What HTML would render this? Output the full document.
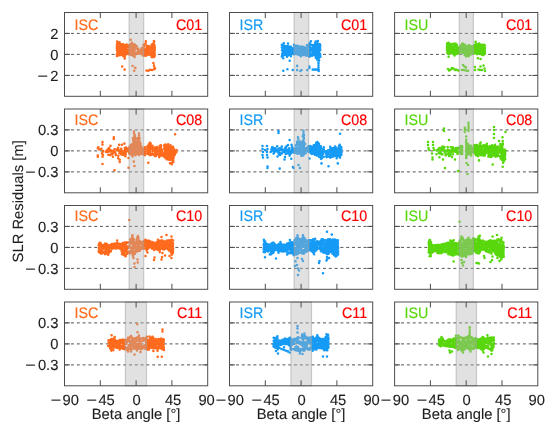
<!DOCTYPE html><html><head><meta charset="utf-8"><style>html,body{margin:0;padding:0;background:#fff;}svg{display:block}</style></head><body>
<svg width="550" height="430" viewBox="0 0 550 430" font-family="'Liberation Sans', Arial, Helvetica, sans-serif" text-rendering="geometricPrecision">
<rect width="550" height="430" fill="#fff"/>
<g>
<line x1="64.5" y1="33.40" x2="207.7" y2="33.40" stroke="#555555" stroke-width="1" stroke-dasharray="3 2.8" stroke-dashoffset="-0.7"/>
<line x1="64.5" y1="54.40" x2="207.7" y2="54.40" stroke="#555555" stroke-width="1" stroke-dasharray="3 2.8" stroke-dashoffset="-0.7"/>
<line x1="64.5" y1="75.40" x2="207.7" y2="75.40" stroke="#555555" stroke-width="1" stroke-dasharray="3 2.8" stroke-dashoffset="-0.7"/>
<path d="M117.1 41.5h0M117.0 55.9h0M117.1 44.0h0M117.1 45.3h0M116.8 46.5h0M117.1 47.6h0M116.9 48.8h0M117.0 50.5h0M116.9 53.8h0M117.7 42.2h0M117.6 55.4h0M117.8 43.6h0M117.6 46.1h0M117.6 48.8h0M117.6 50.8h0M117.7 51.8h0M117.5 53.5h0M117.8 54.7h0M118.9 43.7h0M119.0 55.2h0M118.7 47.4h0M119.2 49.9h0M119.0 51.0h0M119.0 53.5h0M119.6 44.1h0M119.6 55.3h0M120.1 46.0h0M119.7 48.3h0M119.7 49.7h0M119.7 51.9h0M119.9 55.2h0M119.6 42.3h0M121.1 45.7h0M121.2 54.7h0M120.9 46.5h0M121.0 48.3h0M120.9 50.2h0M120.9 52.3h0M120.9 53.2h0M121.7 44.3h0M121.4 54.5h0M121.4 48.2h0M121.5 49.0h0M121.3 50.2h0M121.3 52.1h0M121.5 53.5h0M123.2 44.4h0M123.2 56.0h0M123.3 45.3h0M123.1 46.4h0M123.3 47.8h0M123.1 49.7h0M123.1 50.5h0M123.2 53.0h0M123.3 54.8h0M123.5 45.5h0M123.6 55.8h0M123.7 47.3h0M123.7 49.2h0M123.5 51.9h0M123.7 53.8h0M123.4 54.8h0M124.7 45.4h0M124.8 56.3h0M125.0 46.7h0M124.8 49.3h0M124.6 50.8h0M124.7 52.0h0M124.8 54.6h0M125.6 46.0h0M125.5 54.7h0M125.8 48.4h0M125.3 49.5h0M125.7 50.9h0M125.3 52.7h0M126.5 47.4h0M126.4 54.0h0M126.3 49.2h0M126.6 50.5h0M126.5 52.5h0M126.7 44.6h0M127.9 47.0h0M127.9 53.7h0M128.2 49.7h0M128.1 52.1h0M128.8 45.4h0M129.0 54.3h0M129.1 47.2h0M129.0 49.8h0M128.8 52.2h0M128.7 54.1h0M130.2 45.1h0M129.9 54.0h0M129.8 47.4h0M130.2 49.1h0M129.8 51.1h0M129.8 52.0h0M129.8 53.1h0M130.7 39.8h0M130.6 54.7h0M130.6 44.4h0M130.5 47.0h0M130.5 49.2h0M130.7 51.6h0M130.7 54.7h0M132.0 42.9h0M131.8 54.7h0M131.8 43.8h0M131.9 45.0h0M131.7 47.7h0M132.1 50.1h0M131.7 51.5h0M131.7 53.2h0M133.0 44.4h0M132.9 55.6h0M132.8 46.1h0M132.9 46.9h0M132.8 48.2h0M132.8 52.3h0M132.9 54.6h0M133.5 45.0h0M133.6 54.8h0M133.6 47.4h0M133.6 49.0h0M133.7 50.9h0M133.5 53.4h0M134.8 44.6h0M134.8 54.2h0M134.7 46.2h0M134.6 50.3h0M134.4 52.0h0M134.7 53.2h0M134.6 57.1h0M135.7 45.6h0M135.5 54.5h0M135.9 48.1h0M135.8 53.6h0M136.6 46.1h0M136.9 53.5h0M136.9 48.8h0M136.5 52.9h0M138.0 48.6h0M137.7 53.8h0M137.9 51.3h0M137.8 53.1h0M138.3 50.6h0M138.6 53.4h0M138.6 52.7h0M139.8 50.8h0M139.7 53.5h0M139.5 52.6h0M140.7 49.5h0M140.5 53.8h0M140.6 51.2h0M140.7 52.2h0M140.8 53.5h0M141.8 48.0h0M142.2 53.8h0M141.8 49.9h0M141.9 51.2h0M142.0 53.4h0M142.5 47.7h0M142.8 55.2h0M142.7 49.7h0M142.8 51.4h0M142.8 53.1h0M143.6 47.0h0M143.7 55.6h0M143.6 50.9h0M143.4 52.3h0M143.6 53.9h0M143.4 55.1h0M143.4 44.8h0M144.3 45.7h0M144.3 55.4h0M144.6 49.5h0M144.6 51.9h0M144.6 54.2h0M145.6 43.4h0M146.0 55.8h0M145.8 48.7h0M145.7 51.3h0M145.8 53.7h0M145.6 54.6h0M145.8 55.8h0M145.9 41.2h0M147.0 45.7h0M147.0 54.8h0M146.9 46.7h0M146.9 48.2h0M147.1 49.1h0M147.0 50.7h0M146.8 52.6h0M146.9 54.7h0M148.2 46.3h0M148.2 54.5h0M147.8 48.3h0M148.1 49.9h0M147.8 51.5h0M148.2 54.2h0M148.7 46.5h0M148.7 54.6h0M149.0 47.7h0M148.7 50.3h0M148.7 51.9h0M148.7 53.1h0M149.4 46.6h0M149.5 54.3h0M149.5 48.7h0M149.5 50.0h0M149.4 53.0h0M150.7 47.0h0M150.8 55.0h0M150.7 48.1h0M150.9 50.4h0M150.7 53.1h0M151.8 44.6h0M151.7 56.9h0M151.7 45.9h0M152.1 47.7h0M151.9 49.4h0M151.6 51.7h0M151.7 53.2h0M151.8 55.7h0M152.9 43.8h0M153.0 57.3h0M152.9 45.2h0M152.8 47.8h0M153.1 51.7h0M152.8 54.3h0M153.0 56.6h0M153.9 41.0h0M153.9 56.9h0M154.2 41.8h0M154.0 44.4h0M154.1 46.2h0M153.8 47.6h0M154.3 49.5h0M154.0 53.3h0M154.1 55.9h0M154.4 45.1h0M154.7 55.9h0M154.7 47.0h0M154.8 48.0h0M154.5 48.9h0M154.8 50.1h0M154.4 52.1h0M154.7 53.8h0M154.5 54.8h0M124.7 58.4h0M122.2 66.5h0M124.7 69.6h0M132.6 66.0h0M135.3 67.9h0M134.2 70.7h0M146.5 70.5h0M148.5 70.7h0M150.0 69.7h0M152.0 70.0h0M154.2 69.3h0M154.5 67.5h0M154.0 65.5h0M153.4 63.0h0M155.0 68.5h0" fill="none" stroke="#ff6a1c" stroke-width="2.6" stroke-linecap="round"/>
<rect x="129.1" y="12.5" width="14.60" height="83.8" fill="#b3b3b3" fill-opacity="0.4" stroke="#a0a0a0" stroke-opacity="0.5" stroke-width="1.2"/>
<line x1="100.30" y1="12.5" x2="100.30" y2="18.0" stroke="#4d4d4d" stroke-width="1"/>
<line x1="100.30" y1="96.3" x2="100.30" y2="90.8" stroke="#4d4d4d" stroke-width="1"/>
<line x1="136.10" y1="12.5" x2="136.10" y2="18.0" stroke="#4d4d4d" stroke-width="1"/>
<line x1="136.10" y1="96.3" x2="136.10" y2="90.8" stroke="#4d4d4d" stroke-width="1"/>
<line x1="171.90" y1="12.5" x2="171.90" y2="18.0" stroke="#4d4d4d" stroke-width="1"/>
<line x1="171.90" y1="96.3" x2="171.90" y2="90.8" stroke="#4d4d4d" stroke-width="1"/>
<line x1="64.5" y1="33.40" x2="70.0" y2="33.40" stroke="#4d4d4d" stroke-width="1"/>
<line x1="207.7" y1="33.40" x2="202.2" y2="33.40" stroke="#4d4d4d" stroke-width="1"/>
<line x1="64.5" y1="54.40" x2="70.0" y2="54.40" stroke="#4d4d4d" stroke-width="1"/>
<line x1="207.7" y1="54.40" x2="202.2" y2="54.40" stroke="#4d4d4d" stroke-width="1"/>
<line x1="64.5" y1="75.40" x2="70.0" y2="75.40" stroke="#4d4d4d" stroke-width="1"/>
<line x1="207.7" y1="75.40" x2="202.2" y2="75.40" stroke="#4d4d4d" stroke-width="1"/>
<rect x="64.5" y="12.5" width="143.2" height="83.8" fill="none" stroke="#4d4d4d" stroke-width="1"/>
<text transform="translate(74.50 30.30) scale(1 1.06)" font-size="14.3" fill="#ff6a1c" stroke="#ff6a1c" stroke-width="0.15">ISC</text>
<text transform="translate(202.20 30.30) scale(1 1.06)" font-size="14.3" fill="#ff0000" stroke="#ff0000" stroke-width="0.15" text-anchor="end">C01</text>
</g>
<g>
<line x1="229.5" y1="33.40" x2="372.7" y2="33.40" stroke="#555555" stroke-width="1" stroke-dasharray="3 2.8" stroke-dashoffset="-0.7"/>
<line x1="229.5" y1="54.40" x2="372.7" y2="54.40" stroke="#555555" stroke-width="1" stroke-dasharray="3 2.8" stroke-dashoffset="-0.7"/>
<line x1="229.5" y1="75.40" x2="372.7" y2="75.40" stroke="#555555" stroke-width="1" stroke-dasharray="3 2.8" stroke-dashoffset="-0.7"/>
<path d="M281.9 44.9h0M281.9 56.6h0M281.9 47.5h0M282.0 50.2h0M282.2 53.8h0M282.0 55.9h0M282.6 45.4h0M282.7 56.0h0M282.7 46.8h0M282.7 48.3h0M283.1 51.6h0M282.9 53.1h0M283.0 54.3h0M284.1 46.1h0M283.9 54.6h0M284.3 47.1h0M284.3 49.2h0M283.8 51.3h0M284.3 53.1h0M283.8 43.3h0M285.0 46.1h0M284.9 54.9h0M285.4 47.3h0M285.4 48.2h0M285.3 49.3h0M285.4 50.6h0M285.1 52.8h0M286.3 46.2h0M286.2 54.6h0M285.9 47.4h0M286.2 48.3h0M286.2 50.9h0M285.9 53.7h0M287.0 46.3h0M287.0 55.0h0M287.2 47.3h0M287.2 49.1h0M287.3 50.3h0M287.4 51.8h0M286.9 52.8h0M287.1 54.8h0M287.0 56.8h0M288.3 46.4h0M288.3 55.3h0M288.2 50.6h0M288.3 53.7h0M287.9 55.3h0M288.0 43.6h0M289.1 48.6h0M289.1 54.3h0M289.2 50.2h0M289.3 52.6h0M289.4 53.6h0M290.2 46.7h0M290.1 54.7h0M290.5 49.0h0M290.1 52.4h0M290.2 53.5h0M290.9 46.9h0M290.7 54.5h0M290.8 48.5h0M290.8 50.6h0M290.9 56.2h0M292.1 48.1h0M292.5 53.7h0M292.4 49.7h0M292.2 52.4h0M292.2 53.6h0M293.0 49.3h0M293.2 53.9h0M292.9 51.6h0M292.9 53.0h0M294.4 46.8h0M294.0 54.2h0M294.4 49.0h0M294.4 50.5h0M294.4 51.8h0M294.2 53.8h0M294.1 44.8h0M294.6 45.7h0M294.6 53.2h0M294.6 46.7h0M294.8 48.6h0M294.7 50.9h0M296.2 45.7h0M296.1 54.0h0M296.2 47.2h0M296.4 49.1h0M296.2 51.7h0M296.5 52.7h0M297.4 45.9h0M297.0 54.0h0M297.3 48.3h0M297.3 53.9h0M297.9 46.1h0M298.0 54.4h0M297.8 48.3h0M297.7 50.6h0M297.6 52.8h0M298.8 46.9h0M298.9 54.8h0M298.8 47.7h0M298.8 49.2h0M298.9 50.2h0M298.7 52.0h0M299.1 54.7h0M299.6 46.8h0M299.8 54.7h0M299.7 48.5h0M299.8 49.9h0M299.7 51.0h0M299.9 52.5h0M299.7 53.7h0M301.0 46.5h0M300.8 56.2h0M300.9 48.9h0M300.9 50.4h0M301.0 52.8h0M301.0 55.5h0M301.8 47.1h0M302.0 54.9h0M302.0 49.7h0M301.8 52.3h0M302.8 46.7h0M303.0 55.0h0M302.9 47.6h0M303.1 50.0h0M303.0 51.4h0M303.1 53.2h0M303.1 54.1h0M304.1 47.4h0M304.2 54.9h0M303.7 48.2h0M303.7 50.5h0M303.9 51.7h0M303.8 54.7h0M305.1 49.1h0M304.9 53.3h0M304.9 51.7h0M306.0 47.9h0M306.1 53.1h0M306.2 50.6h0M306.1 55.5h0M306.9 45.4h0M306.9 54.1h0M306.8 47.9h0M306.5 48.8h0M306.9 51.3h0M306.7 53.7h0M307.8 45.4h0M307.9 55.6h0M307.7 49.7h0M307.8 52.0h0M307.9 52.9h0M308.0 55.1h0M309.2 44.2h0M309.2 56.6h0M309.3 45.4h0M309.2 47.3h0M309.2 49.9h0M309.4 52.6h0M309.6 43.3h0M309.8 56.5h0M309.6 45.2h0M309.8 46.5h0M309.8 49.0h0M309.6 50.4h0M309.7 52.2h0M309.8 54.3h0M309.9 55.6h0M310.8 44.6h0M311.1 55.0h0M311.2 48.4h0M310.8 50.3h0M311.1 54.9h0M310.9 41.2h0M312.3 45.1h0M312.1 55.7h0M312.3 49.0h0M312.2 51.1h0M312.4 53.1h0M312.2 54.2h0M312.8 47.1h0M313.0 54.5h0M312.7 48.7h0M312.8 50.3h0M312.9 53.0h0M312.7 54.0h0M313.9 45.3h0M314.2 53.9h0M314.1 48.1h0M314.0 51.6h0M315.4 42.5h0M315.2 55.5h0M315.2 43.4h0M315.1 44.9h0M315.0 47.0h0M315.3 48.3h0M315.1 50.4h0M315.2 51.3h0M315.1 54.0h0M314.9 55.4h0M315.7 41.6h0M315.8 57.8h0M315.6 44.6h0M315.6 46.8h0M315.8 48.4h0M315.9 50.1h0M315.6 52.7h0M315.8 54.8h0M315.7 55.7h0M317.3 43.6h0M317.2 59.6h0M317.0 45.5h0M317.2 47.9h0M317.3 50.4h0M317.3 52.5h0M317.2 53.7h0M317.4 55.5h0M317.4 57.5h0M317.1 59.5h0M318.2 44.2h0M318.2 58.2h0M317.9 45.5h0M317.8 49.8h0M317.9 50.6h0M317.9 53.1h0M318.2 54.1h0M318.1 55.9h0M317.9 41.1h0M319.1 44.1h0M318.9 58.0h0M319.2 45.5h0M319.2 46.6h0M319.2 48.5h0M319.0 52.0h0M319.1 53.3h0M319.2 57.3h0M319.1 60.2h0M319.9 44.4h0M320.3 56.8h0M320.3 45.5h0M320.1 46.9h0M320.3 49.4h0M320.2 50.2h0M320.0 53.8h0M320.2 55.2h0M320.0 56.6h0M283.3 58.3h0M289.7 60.7h0M283.3 70.8h0M287.4 69.2h0M292.8 70.0h0M297.1 65.9h0M297.1 70.1h0M300.3 71.0h0M301.5 70.0h0M307.2 70.1h0M309.4 68.0h0M309.4 66.5h0M312.7 69.6h0M314.2 69.6h0M315.7 69.6h0M317.2 69.6h0M318.7 69.8h0M318.5 63.5h0M318.5 65.5h0M318.5 67.5h0M318.7 71.0h0M318.5 62.0h0" fill="none" stroke="#159bf5" stroke-width="2.6" stroke-linecap="round"/>
<rect x="294.1" y="12.5" width="14.60" height="83.8" fill="#b3b3b3" fill-opacity="0.4" stroke="#a0a0a0" stroke-opacity="0.5" stroke-width="1.2"/>
<line x1="265.30" y1="12.5" x2="265.30" y2="18.0" stroke="#4d4d4d" stroke-width="1"/>
<line x1="265.30" y1="96.3" x2="265.30" y2="90.8" stroke="#4d4d4d" stroke-width="1"/>
<line x1="301.10" y1="12.5" x2="301.10" y2="18.0" stroke="#4d4d4d" stroke-width="1"/>
<line x1="301.10" y1="96.3" x2="301.10" y2="90.8" stroke="#4d4d4d" stroke-width="1"/>
<line x1="336.90" y1="12.5" x2="336.90" y2="18.0" stroke="#4d4d4d" stroke-width="1"/>
<line x1="336.90" y1="96.3" x2="336.90" y2="90.8" stroke="#4d4d4d" stroke-width="1"/>
<line x1="229.5" y1="33.40" x2="235.0" y2="33.40" stroke="#4d4d4d" stroke-width="1"/>
<line x1="372.7" y1="33.40" x2="367.2" y2="33.40" stroke="#4d4d4d" stroke-width="1"/>
<line x1="229.5" y1="54.40" x2="235.0" y2="54.40" stroke="#4d4d4d" stroke-width="1"/>
<line x1="372.7" y1="54.40" x2="367.2" y2="54.40" stroke="#4d4d4d" stroke-width="1"/>
<line x1="229.5" y1="75.40" x2="235.0" y2="75.40" stroke="#4d4d4d" stroke-width="1"/>
<line x1="372.7" y1="75.40" x2="367.2" y2="75.40" stroke="#4d4d4d" stroke-width="1"/>
<rect x="229.5" y="12.5" width="143.2" height="83.8" fill="none" stroke="#4d4d4d" stroke-width="1"/>
<text transform="translate(239.50 30.30) scale(1 1.06)" font-size="14.3" fill="#159bf5" stroke="#159bf5" stroke-width="0.15">ISR</text>
<text transform="translate(367.20 30.30) scale(1 1.06)" font-size="14.3" fill="#ff0000" stroke="#ff0000" stroke-width="0.15" text-anchor="end">C01</text>
</g>
<g>
<line x1="394.6" y1="33.40" x2="537.8" y2="33.40" stroke="#555555" stroke-width="1" stroke-dasharray="3 2.8" stroke-dashoffset="-0.7"/>
<line x1="394.6" y1="54.40" x2="537.8" y2="54.40" stroke="#555555" stroke-width="1" stroke-dasharray="3 2.8" stroke-dashoffset="-0.7"/>
<line x1="394.6" y1="75.40" x2="537.8" y2="75.40" stroke="#555555" stroke-width="1" stroke-dasharray="3 2.8" stroke-dashoffset="-0.7"/>
<path d="M447.3 43.2h0M447.4 52.9h0M447.1 44.5h0M447.1 46.3h0M447.0 47.9h0M447.1 49.6h0M447.1 50.5h0M447.8 44.0h0M447.8 53.1h0M448.2 45.6h0M448.2 46.9h0M448.2 48.7h0M447.9 51.2h0M448.6 42.8h0M449.0 54.0h0M448.6 44.1h0M448.6 46.6h0M448.7 48.5h0M448.7 50.6h0M448.6 52.6h0M450.1 44.1h0M450.1 52.5h0M449.7 45.8h0M450.1 46.6h0M449.9 48.8h0M450.0 49.9h0M449.9 52.1h0M451.1 45.7h0M451.2 52.8h0M451.1 47.7h0M451.1 49.8h0M451.2 50.7h0M451.8 44.6h0M451.9 52.9h0M452.0 46.7h0M451.8 48.9h0M452.2 51.0h0M452.8 43.9h0M452.6 53.4h0M452.5 48.1h0M452.8 51.3h0M454.0 44.3h0M453.9 54.2h0M453.8 46.8h0M453.9 47.9h0M454.0 49.7h0M454.2 50.6h0M453.8 51.9h0M453.8 53.2h0M454.5 43.8h0M454.6 53.9h0M454.6 45.3h0M454.8 47.8h0M454.7 50.5h0M454.6 51.9h0M455.7 43.7h0M455.6 53.2h0M456.0 44.9h0M456.0 47.0h0M455.6 50.1h0M455.6 51.3h0M456.9 44.8h0M456.6 54.0h0M457.0 47.0h0M456.9 48.0h0M456.6 50.6h0M456.8 52.6h0M457.5 47.5h0M457.5 53.2h0M457.6 48.3h0M457.8 50.7h0M459.1 47.4h0M459.1 53.6h0M459.2 49.2h0M459.3 50.9h0M459.1 52.7h0M460.2 46.0h0M460.4 52.0h0M460.4 47.6h0M460.3 48.7h0M460.4 50.3h0M460.9 45.5h0M461.2 52.0h0M460.8 47.5h0M460.7 51.7h0M462.2 43.9h0M462.2 52.9h0M462.4 44.8h0M462.3 46.2h0M462.4 47.7h0M462.1 48.9h0M462.2 50.9h0M462.3 52.5h0M462.9 43.8h0M462.9 51.8h0M462.8 45.0h0M462.9 46.9h0M463.0 49.2h0M463.0 51.0h0M464.4 45.2h0M464.2 53.0h0M464.5 47.2h0M464.4 49.2h0M464.3 51.4h0M464.9 44.7h0M464.7 55.0h0M465.2 45.9h0M464.8 48.3h0M465.0 50.9h0M464.8 52.3h0M464.7 53.6h0M466.0 46.2h0M466.0 56.2h0M465.7 47.4h0M466.1 50.0h0M466.0 52.1h0M465.9 53.7h0M466.0 55.6h0M466.8 46.7h0M466.9 54.7h0M466.6 47.6h0M466.5 50.3h0M466.7 52.1h0M466.8 54.6h0M468.3 45.6h0M468.3 56.2h0M468.1 46.6h0M468.1 48.5h0M468.0 50.7h0M467.9 52.9h0M468.2 54.0h0M469.1 45.2h0M469.3 55.4h0M469.1 46.1h0M469.1 48.8h0M469.0 50.3h0M469.4 51.7h0M469.5 52.6h0M470.1 46.4h0M470.0 53.7h0M470.1 48.3h0M470.0 49.6h0M471.1 46.2h0M470.8 54.2h0M471.1 48.8h0M470.7 51.3h0M470.7 52.5h0M472.0 48.2h0M471.8 52.3h0M471.8 50.7h0M471.8 51.5h0M472.8 47.3h0M473.0 52.8h0M473.0 49.4h0M472.7 52.0h0M474.0 45.4h0M473.6 53.5h0M473.5 46.3h0M473.8 48.6h0M473.8 49.5h0M473.8 50.5h0M473.6 51.8h0M473.9 53.2h0M475.2 44.8h0M474.8 53.1h0M475.2 45.9h0M474.8 47.7h0M475.2 49.0h0M474.9 52.3h0M475.6 45.1h0M476.0 53.2h0M475.8 46.4h0M475.8 49.1h0M475.6 50.2h0M475.7 51.5h0M475.6 41.9h0M476.6 44.0h0M477.0 54.1h0M477.0 46.1h0M476.6 48.6h0M476.6 50.3h0M476.7 51.6h0M476.9 52.9h0M478.0 44.5h0M477.7 53.6h0M477.8 47.1h0M478.0 48.0h0M478.0 49.9h0M477.9 50.8h0M478.1 51.9h0M479.1 43.5h0M478.9 53.5h0M479.4 44.8h0M478.9 46.9h0M479.2 48.6h0M479.3 51.3h0M480.1 44.4h0M480.1 54.0h0M480.3 46.6h0M480.2 47.7h0M480.4 50.0h0M480.3 51.1h0M481.4 45.6h0M481.5 54.2h0M481.2 47.7h0M481.2 50.3h0M481.1 52.3h0M482.0 45.1h0M482.2 54.8h0M482.3 46.7h0M482.3 47.9h0M482.3 49.5h0M482.2 52.0h0M482.2 54.7h0M483.4 44.7h0M483.4 55.1h0M483.0 46.9h0M483.3 49.1h0M483.2 51.4h0M483.4 53.7h0M484.1 44.9h0M484.0 52.6h0M484.2 45.8h0M484.2 48.4h0M484.2 50.2h0M484.9 45.5h0M485.0 53.3h0M484.9 48.1h0M484.6 49.4h0M484.8 50.5h0M484.7 51.7h0M448.6 56.8h0M454.5 55.4h0M477.9 58.3h0M480.6 59.0h0M448.0 69.0h0M449.0 70.5h0M450.0 70.0h0M451.5 69.0h0M452.0 68.0h0M453.5 68.5h0M455.0 70.0h0M456.0 69.5h0M457.0 70.0h0M458.5 70.5h0M463.0 65.0h0M464.5 66.5h0M466.0 67.5h0M462.0 70.0h0M464.0 70.0h0M466.0 70.5h0M468.0 70.8h0M475.0 67.0h0M475.0 70.0h0M478.5 69.5h0M480.5 66.5h0M483.5 65.5h0M484.5 68.5h0M485.0 71.0h0M482.0 70.0h0M480.0 70.0h0" fill="none" stroke="#58d80c" stroke-width="2.6" stroke-linecap="round"/>
<rect x="459.3" y="12.5" width="14.10" height="83.8" fill="#b3b3b3" fill-opacity="0.4" stroke="#a0a0a0" stroke-opacity="0.5" stroke-width="1.2"/>
<line x1="430.40" y1="12.5" x2="430.40" y2="18.0" stroke="#4d4d4d" stroke-width="1"/>
<line x1="430.40" y1="96.3" x2="430.40" y2="90.8" stroke="#4d4d4d" stroke-width="1"/>
<line x1="466.20" y1="12.5" x2="466.20" y2="18.0" stroke="#4d4d4d" stroke-width="1"/>
<line x1="466.20" y1="96.3" x2="466.20" y2="90.8" stroke="#4d4d4d" stroke-width="1"/>
<line x1="502.00" y1="12.5" x2="502.00" y2="18.0" stroke="#4d4d4d" stroke-width="1"/>
<line x1="502.00" y1="96.3" x2="502.00" y2="90.8" stroke="#4d4d4d" stroke-width="1"/>
<line x1="394.6" y1="33.40" x2="400.1" y2="33.40" stroke="#4d4d4d" stroke-width="1"/>
<line x1="537.8" y1="33.40" x2="532.3" y2="33.40" stroke="#4d4d4d" stroke-width="1"/>
<line x1="394.6" y1="54.40" x2="400.1" y2="54.40" stroke="#4d4d4d" stroke-width="1"/>
<line x1="537.8" y1="54.40" x2="532.3" y2="54.40" stroke="#4d4d4d" stroke-width="1"/>
<line x1="394.6" y1="75.40" x2="400.1" y2="75.40" stroke="#4d4d4d" stroke-width="1"/>
<line x1="537.8" y1="75.40" x2="532.3" y2="75.40" stroke="#4d4d4d" stroke-width="1"/>
<rect x="394.6" y="12.5" width="143.2" height="83.8" fill="none" stroke="#4d4d4d" stroke-width="1"/>
<text transform="translate(404.60 30.30) scale(1 1.06)" font-size="14.3" fill="#58d80c" stroke="#58d80c" stroke-width="0.15">ISU</text>
<text transform="translate(532.30 30.30) scale(1 1.06)" font-size="14.3" fill="#ff0000" stroke="#ff0000" stroke-width="0.15" text-anchor="end">C01</text>
</g>
<g>
<line x1="64.5" y1="129.90" x2="207.7" y2="129.90" stroke="#555555" stroke-width="1" stroke-dasharray="3 2.8" stroke-dashoffset="-0.7"/>
<line x1="64.5" y1="150.90" x2="207.7" y2="150.90" stroke="#555555" stroke-width="1" stroke-dasharray="3 2.8" stroke-dashoffset="-0.7"/>
<line x1="64.5" y1="171.90" x2="207.7" y2="171.90" stroke="#555555" stroke-width="1" stroke-dasharray="3 2.8" stroke-dashoffset="-0.7"/>
<path d="M105.8 151.8h0M106.4 152.0h0M106.7 151.0h0M107.3 151.4h0M106.7 150.5h0M108.3 154.8h0M108.1 151.2h0M107.9 151.6h0M109.3 151.5h0M109.2 148.1h0M110.0 151.3h0M110.2 155.1h0M109.9 150.0h0M110.5 145.8h0M111.2 150.6h0M111.8 154.3h0M111.5 153.6h0M112.2 151.0h0M113.1 151.8h0M113.3 150.9h0M112.7 153.8h0M114.1 151.1h0M114.4 149.8h0M115.1 152.8h0M114.6 149.3h0M115.0 152.2h0M115.8 154.9h0M115.5 153.5h0M116.9 150.3h0M116.8 149.5h0M118.5 150.3h0M117.6 149.8h0M118.3 155.7h0M119.4 150.4h0M119.5 153.2h0M119.3 150.4h0M120.0 151.6h0M120.2 150.1h0M121.2 148.9h0M121.4 154.4h0M121.0 151.7h0M121.6 153.1h0M121.6 150.9h0M121.6 153.9h0M122.9 152.1h0M123.1 154.4h0M122.9 151.2h0M123.8 155.0h0M123.7 151.2h0M124.8 148.1h0M125.1 148.5h0M126.1 147.6h0M125.5 151.0h0M125.6 152.2h0M127.3 149.0h0M127.3 151.0h0M126.7 149.9h0M128.2 151.3h0M127.8 149.4h0M128.4 148.8h0M129.4 151.3h0M129.3 149.6h0M129.3 153.5h0M118.8 150.6h0M120.0 150.5h0M119.9 151.9h0M121.5 150.8h0M121.5 153.5h0M122.0 144.8h0M123.2 153.5h0M123.8 152.4h0M123.7 153.4h0M125.0 149.9h0M124.5 153.4h0M125.7 154.4h0M127.4 151.1h0M128.3 148.5h0M129.0 148.9h0M129.7 146.6h0M129.9 147.7h0M129.9 149.3h0M129.6 153.8h0M129.4 149.0h0M129.3 151.3h0M129.2 152.4h0M130.7 146.4h0M131.0 148.7h0M130.8 153.1h0M131.1 146.4h0M131.0 148.2h0M130.7 150.1h0M131.0 152.0h0M131.1 153.6h0M131.0 154.6h0M131.0 144.9h0M131.0 147.0h0M131.2 148.5h0M131.4 150.4h0M131.2 153.4h0M132.6 144.2h0M132.6 145.4h0M132.5 147.1h0M132.4 149.5h0M132.4 151.8h0M132.5 153.3h0M132.3 155.2h0M132.6 156.5h0M133.3 141.1h0M133.5 142.5h0M133.4 143.8h0M133.5 145.1h0M133.5 146.5h0M133.5 151.6h0M133.3 153.4h0M133.1 138.0h0M133.2 139.5h0M133.2 144.0h0M133.1 145.9h0M133.1 147.1h0M133.1 148.5h0M133.1 150.0h0M133.1 152.2h0M134.6 134.7h0M134.9 142.4h0M135.0 143.4h0M134.7 144.8h0M134.6 147.2h0M135.0 149.2h0M134.8 152.3h0M134.8 135.8h0M135.0 137.3h0M135.0 139.8h0M135.0 142.2h0M134.9 144.5h0M134.8 146.2h0M134.7 147.8h0M134.8 148.9h0M134.8 151.2h0M134.9 153.0h0M134.8 154.6h0M135.5 138.0h0M135.8 139.4h0M135.7 141.7h0M135.6 144.1h0M135.6 145.9h0M135.7 147.6h0M135.6 149.3h0M135.6 151.1h0M135.6 152.4h0M135.6 138.3h0M135.4 139.5h0M135.3 141.9h0M135.6 144.0h0M135.5 145.5h0M135.3 147.9h0M135.6 150.2h0M135.6 151.6h0M135.3 153.2h0M135.6 155.3h0M136.4 142.9h0M136.5 145.1h0M136.4 146.5h0M136.4 148.6h0M136.7 149.7h0M136.6 152.2h0M137.8 141.9h0M137.5 144.3h0M137.7 148.5h0M137.5 152.3h0M137.5 153.8h0M138.1 137.8h0M138.1 139.3h0M138.2 141.2h0M138.1 145.2h0M138.2 146.4h0M138.2 148.2h0M138.2 149.5h0M138.0 150.5h0M139.1 138.8h0M139.1 141.3h0M139.1 144.4h0M139.1 147.0h0M139.2 148.5h0M139.2 150.6h0M139.1 154.9h0M139.4 137.9h0M139.3 140.0h0M139.4 143.1h0M139.2 144.3h0M139.2 145.5h0M139.4 147.7h0M139.4 150.7h0M139.4 152.5h0M139.3 153.8h0M140.1 142.5h0M140.4 143.8h0M140.3 144.9h0M140.2 146.4h0M140.0 148.7h0M140.2 150.3h0M140.3 151.9h0M140.3 153.7h0M141.5 146.7h0M141.5 148.4h0M141.5 149.9h0M141.8 151.6h0M141.7 154.0h0M143.6 148.5h0M143.8 149.6h0M143.5 152.1h0M143.4 153.6h0M144.0 150.2h0M144.2 152.7h0M143.9 154.8h0M143.7 151.3h0M143.7 152.8h0M145.0 147.2h0M145.0 149.0h0M144.9 150.8h0M145.0 151.9h0M145.1 153.1h0M144.9 154.7h0M145.0 148.3h0M144.9 150.7h0M144.9 155.1h0M147.4 146.8h0M147.2 149.2h0M147.5 151.4h0M147.4 153.8h0M147.8 145.7h0M147.6 147.1h0M147.9 148.3h0M147.8 150.3h0M147.8 151.5h0M147.7 152.9h0M149.4 143.4h0M149.2 144.7h0M149.1 146.9h0M149.2 149.3h0M149.2 150.7h0M149.2 151.9h0M150.0 142.8h0M150.1 143.8h0M149.9 144.9h0M150.1 146.6h0M150.2 148.1h0M149.9 150.4h0M150.1 152.5h0M150.3 153.9h0M150.0 144.6h0M149.8 150.6h0M149.7 153.2h0M149.6 155.0h0M150.6 143.6h0M150.6 145.0h0M150.7 147.6h0M150.8 148.8h0M150.8 155.0h0M152.5 145.7h0M152.2 147.1h0M152.5 148.4h0M152.5 151.2h0M152.5 153.7h0M152.8 147.3h0M152.9 149.7h0M152.9 151.3h0M153.0 154.6h0M155.1 147.5h0M155.0 148.7h0M155.2 155.5h0M155.2 150.1h0M155.1 151.7h0M155.0 153.5h0M155.0 154.6h0M155.0 155.9h0M155.8 148.4h0M155.8 150.4h0M155.9 152.1h0M155.9 153.9h0M155.8 156.1h0M157.0 147.0h0M157.0 148.7h0M156.9 151.1h0M157.1 153.3h0M156.8 154.8h0M159.4 147.6h0M159.3 150.7h0M159.4 152.5h0M159.2 154.9h0M159.2 156.1h0M159.1 150.2h0M159.1 151.3h0M159.2 153.8h0M159.3 154.8h0M159.2 157.1h0M159.8 145.7h0M159.9 149.3h0M159.9 151.4h0M159.8 153.9h0M159.8 156.1h0M160.8 145.3h0M160.9 146.8h0M160.6 148.5h0M160.7 149.9h0M160.9 152.5h0M160.7 153.9h0M160.7 150.0h0M160.7 151.8h0M160.7 153.9h0M162.1 149.9h0M162.0 151.6h0M161.9 153.4h0M161.9 155.6h0M164.0 145.6h0M164.2 148.2h0M164.2 153.0h0M164.0 154.7h0M164.0 156.6h0M165.4 144.5h0M165.2 146.4h0M165.3 148.0h0M165.3 151.0h0M165.5 152.2h0M165.4 154.5h0M165.0 148.0h0M164.9 149.6h0M164.9 151.2h0M164.8 153.1h0M164.9 154.3h0M165.1 156.2h0M165.0 157.4h0M165.8 149.2h0M165.9 153.0h0M166.0 156.0h0M166.3 145.2h0M166.0 147.7h0M165.9 149.1h0M166.2 151.4h0M166.0 153.5h0M166.1 154.7h0M166.0 155.8h0M166.0 157.4h0M166.6 146.9h0M166.6 148.1h0M166.9 150.7h0M166.7 151.7h0M166.7 153.0h0M166.6 155.0h0M166.8 156.0h0M166.6 157.8h0M166.6 159.3h0M166.7 145.7h0M166.9 147.4h0M166.7 149.7h0M167.0 154.1h0M168.3 146.8h0M168.0 148.9h0M168.4 150.5h0M168.0 152.8h0M168.3 154.6h0M168.1 155.7h0M168.2 157.5h0M168.4 159.1h0M168.2 144.3h0M168.4 146.8h0M168.3 148.4h0M168.3 149.5h0M168.4 150.8h0M168.4 153.0h0M168.4 154.2h0M168.3 156.1h0M168.5 157.6h0M168.5 159.4h0M169.8 146.6h0M169.7 147.9h0M169.9 149.1h0M169.7 150.9h0M169.7 152.5h0M169.8 153.6h0M169.9 155.9h0M169.8 157.9h0M169.8 159.9h0M170.0 151.1h0M170.0 152.9h0M169.9 156.4h0M169.9 158.1h0M169.8 159.9h0M170.0 163.2h0M170.6 145.4h0M170.8 147.1h0M170.7 148.6h0M170.5 150.8h0M170.6 157.0h0M170.9 158.9h0M172.0 147.5h0M172.0 149.3h0M171.8 151.3h0M171.9 152.9h0M172.0 154.4h0M171.7 157.8h0M171.7 159.6h0M171.7 162.7h0M171.8 163.9h0M171.9 148.1h0M171.6 149.4h0M171.7 153.1h0M171.5 155.6h0M171.9 156.6h0M171.6 158.4h0M171.8 164.2h0M173.2 148.8h0M173.3 150.9h0M173.0 153.2h0M173.3 155.5h0M173.1 156.6h0M173.1 158.5h0M173.3 160.1h0M173.3 161.9h0M173.0 146.8h0M173.3 149.1h0M173.3 150.5h0M173.2 151.5h0M173.3 153.6h0M173.3 155.5h0M173.2 157.0h0M173.2 158.6h0M173.1 160.7h0M173.8 148.9h0M173.8 150.7h0M173.6 152.1h0M173.6 155.4h0M173.7 157.3h0M175.1 151.1h0M175.0 153.3h0M174.9 154.8h0M176.5 150.1h0M176.2 152.4h0M134.0 131.5h0M134.0 133.5h0M139.0 133.5h0M139.0 135.5h0M134.5 136.0h0M139.5 138.0h0M113.8 137.3h0M113.8 138.9h0M102.5 142.0h0M102.5 144.6h0M98.3 147.3h0M97.8 148.3h0M99.3 149.4h0M101.4 148.8h0M103.0 151.0h0M102.5 152.5h0M102.0 153.5h0M103.0 155.0h0M102.5 156.7h0M97.8 155.6h0M97.8 156.7h0M102.5 164.0h0M114.5 170.3h0M108.2 148.8h0M118.2 147.8h0M119.2 144.7h0M124.4 143.6h0M125.5 156.2h0M112.9 156.7h0M118.2 158.3h0M119.7 159.8h0M119.7 161.9h0M128.6 167.7h0M133.8 161.6h0M134.5 166.0h0M128.5 158.0h0M175.1 134.3h0M148.3 162.8h0" fill="none" stroke="#ff6a1c" stroke-width="2.6" stroke-linecap="round"/>
<rect x="129.1" y="109.0" width="14.60" height="83.8" fill="#b3b3b3" fill-opacity="0.4" stroke="#a0a0a0" stroke-opacity="0.5" stroke-width="1.2"/>
<line x1="100.30" y1="109.0" x2="100.30" y2="114.5" stroke="#4d4d4d" stroke-width="1"/>
<line x1="100.30" y1="192.8" x2="100.30" y2="187.3" stroke="#4d4d4d" stroke-width="1"/>
<line x1="136.10" y1="109.0" x2="136.10" y2="114.5" stroke="#4d4d4d" stroke-width="1"/>
<line x1="136.10" y1="192.8" x2="136.10" y2="187.3" stroke="#4d4d4d" stroke-width="1"/>
<line x1="171.90" y1="109.0" x2="171.90" y2="114.5" stroke="#4d4d4d" stroke-width="1"/>
<line x1="171.90" y1="192.8" x2="171.90" y2="187.3" stroke="#4d4d4d" stroke-width="1"/>
<line x1="64.5" y1="129.90" x2="70.0" y2="129.90" stroke="#4d4d4d" stroke-width="1"/>
<line x1="207.7" y1="129.90" x2="202.2" y2="129.90" stroke="#4d4d4d" stroke-width="1"/>
<line x1="64.5" y1="150.90" x2="70.0" y2="150.90" stroke="#4d4d4d" stroke-width="1"/>
<line x1="207.7" y1="150.90" x2="202.2" y2="150.90" stroke="#4d4d4d" stroke-width="1"/>
<line x1="64.5" y1="171.90" x2="70.0" y2="171.90" stroke="#4d4d4d" stroke-width="1"/>
<line x1="207.7" y1="171.90" x2="202.2" y2="171.90" stroke="#4d4d4d" stroke-width="1"/>
<rect x="64.5" y="109.0" width="143.2" height="83.8" fill="none" stroke="#4d4d4d" stroke-width="1"/>
<text transform="translate(74.50 124.90) scale(1 1.06)" font-size="14.3" fill="#ff6a1c" stroke="#ff6a1c" stroke-width="0.15">ISC</text>
<text transform="translate(202.20 124.90) scale(1 1.06)" font-size="14.3" fill="#ff0000" stroke="#ff0000" stroke-width="0.15" text-anchor="end">C08</text>
</g>
<g>
<line x1="229.5" y1="129.90" x2="372.7" y2="129.90" stroke="#555555" stroke-width="1" stroke-dasharray="3 2.8" stroke-dashoffset="-0.7"/>
<line x1="229.5" y1="150.90" x2="372.7" y2="150.90" stroke="#555555" stroke-width="1" stroke-dasharray="3 2.8" stroke-dashoffset="-0.7"/>
<line x1="229.5" y1="171.90" x2="372.7" y2="171.90" stroke="#555555" stroke-width="1" stroke-dasharray="3 2.8" stroke-dashoffset="-0.7"/>
<path d="M270.7 152.0h0M271.4 149.3h0M271.5 151.1h0M272.1 147.4h0M272.4 150.1h0M272.4 148.8h0M273.0 150.2h0M273.5 148.9h0M273.3 147.8h0M273.6 153.6h0M274.0 152.9h0M273.6 150.5h0M275.2 150.2h0M275.1 151.0h0M276.3 149.9h0M275.5 148.4h0M276.5 151.4h0M276.8 151.2h0M277.2 146.3h0M277.5 149.8h0M278.4 151.0h0M278.4 152.4h0M278.9 154.2h0M278.9 148.5h0M279.6 152.9h0M279.8 148.3h0M279.7 154.0h0M281.1 150.2h0M281.3 148.6h0M280.5 149.8h0M281.8 146.6h0M281.8 153.4h0M282.8 149.8h0M283.3 152.0h0M283.0 150.9h0M283.7 149.9h0M284.5 150.4h0M284.3 151.5h0M284.9 148.8h0M284.7 152.1h0M286.0 147.8h0M286.0 151.1h0M286.4 150.7h0M287.4 151.0h0M287.5 152.2h0M287.4 150.1h0M288.4 152.3h0M287.8 153.2h0M288.3 152.3h0M288.8 149.6h0M288.7 149.9h0M289.7 152.7h0M289.7 154.2h0M289.8 151.6h0M290.9 150.9h0M291.5 152.1h0M292.0 150.8h0M292.3 148.3h0M293.5 151.6h0M293.4 152.4h0M285.2 148.9h0M285.6 147.3h0M285.8 153.9h0M286.5 146.4h0M287.7 150.9h0M288.5 150.5h0M289.2 148.3h0M289.6 155.6h0M290.7 153.8h0M291.8 149.3h0M291.6 144.9h0M293.0 149.9h0M294.0 148.8h0M294.1 149.7h0M294.3 151.4h0M294.4 152.5h0M294.6 148.9h0M294.7 151.1h0M294.7 152.7h0M295.8 145.3h0M296.1 147.0h0M295.8 149.4h0M295.8 151.5h0M295.9 152.6h0M297.3 141.9h0M297.3 143.8h0M297.3 148.3h0M297.4 152.4h0M297.5 153.8h0M297.1 141.9h0M297.1 143.2h0M297.2 144.9h0M297.2 148.1h0M297.1 150.1h0M297.1 152.6h0M299.2 142.1h0M299.0 144.7h0M299.3 146.5h0M299.3 149.3h0M299.1 151.3h0M299.0 153.5h0M300.2 141.5h0M300.0 143.8h0M300.1 145.4h0M299.9 147.8h0M299.9 150.0h0M299.9 151.0h0M299.8 153.3h0M301.4 142.7h0M301.4 144.6h0M301.4 147.1h0M301.2 149.5h0M301.3 151.4h0M301.1 153.8h0M301.3 155.8h0M301.1 144.9h0M301.2 147.2h0M301.2 148.6h0M301.1 150.8h0M301.4 151.9h0M301.5 153.8h0M302.0 145.6h0M301.7 147.4h0M301.7 149.1h0M301.7 151.4h0M301.9 153.4h0M302.8 136.2h0M302.9 141.2h0M303.0 142.5h0M302.8 144.8h0M303.0 146.4h0M303.0 148.9h0M303.0 140.9h0M303.0 142.0h0M303.1 144.0h0M303.0 145.4h0M303.0 147.3h0M302.9 149.5h0M303.0 150.7h0M303.1 153.0h0M303.1 154.4h0M303.1 155.5h0M303.9 135.1h0M303.6 136.9h0M303.7 139.1h0M303.8 141.7h0M303.7 143.9h0M303.9 145.2h0M303.8 147.5h0M303.6 148.9h0M303.9 150.7h0M303.6 152.5h0M303.7 154.6h0M303.9 138.3h0M303.9 142.2h0M303.8 143.5h0M303.7 146.6h0M303.5 148.4h0M303.8 149.5h0M303.7 152.7h0M303.6 154.2h0M305.1 143.9h0M305.1 148.2h0M304.7 150.5h0M304.8 152.1h0M305.6 148.3h0M305.8 149.4h0M305.6 151.0h0M305.7 153.2h0M307.7 146.9h0M307.8 148.5h0M308.0 150.0h0M307.9 151.3h0M308.8 146.4h0M308.6 148.2h0M308.6 151.9h0M310.5 146.1h0M310.4 147.5h0M310.2 149.7h0M309.8 146.5h0M309.6 148.0h0M309.8 152.1h0M310.6 148.4h0M310.8 149.9h0M310.8 151.7h0M310.9 146.9h0M311.1 148.2h0M311.0 149.8h0M311.1 151.4h0M311.2 153.2h0M312.0 149.3h0M311.8 152.7h0M311.9 154.0h0M312.6 146.9h0M312.8 148.2h0M312.9 152.5h0M312.6 153.7h0M313.2 147.5h0M313.1 148.6h0M313.1 149.9h0M313.0 151.5h0M313.2 152.9h0M313.8 145.4h0M314.1 147.2h0M314.1 148.7h0M313.8 150.7h0M314.9 145.1h0M315.1 146.8h0M314.9 148.0h0M314.9 152.2h0M315.3 148.2h0M315.1 149.6h0M315.0 152.8h0M314.9 154.8h0M316.3 142.7h0M316.2 145.1h0M316.4 147.7h0M316.4 149.3h0M316.4 150.3h0M316.4 151.6h0M316.2 144.3h0M316.5 146.1h0M316.3 147.4h0M316.3 148.6h0M316.2 150.3h0M316.5 152.7h0M317.4 142.0h0M317.2 143.4h0M317.1 144.5h0M317.4 145.6h0M317.4 147.0h0M317.2 150.7h0M317.1 153.3h0M317.2 155.3h0M316.7 144.7h0M316.6 146.0h0M316.7 151.8h0M316.7 153.3h0M316.8 155.5h0M319.0 143.9h0M318.8 147.0h0M318.8 149.2h0M319.0 150.5h0M318.8 152.4h0M318.7 154.5h0M318.9 143.9h0M319.0 145.4h0M318.8 147.1h0M318.9 150.0h0M318.7 151.1h0M319.0 154.1h0M319.0 156.7h0M320.0 148.4h0M320.0 152.6h0M319.9 153.8h0M320.8 146.4h0M320.8 147.6h0M320.9 148.8h0M320.8 152.1h0M321.1 154.3h0M321.1 155.8h0M320.8 157.4h0M321.0 158.8h0M320.8 148.6h0M320.7 151.3h0M320.9 155.3h0M320.9 156.8h0M321.8 151.4h0M322.0 153.6h0M321.9 155.6h0M321.9 158.2h0M323.3 148.9h0M323.3 149.9h0M323.3 152.2h0M323.3 153.7h0M323.8 147.4h0M323.9 149.9h0M323.9 151.6h0M323.8 156.7h0M326.1 151.4h0M326.0 152.8h0M326.3 154.3h0M326.3 156.3h0M326.7 152.0h0M326.9 153.6h0M326.9 156.1h0M326.6 157.1h0M328.1 150.3h0M328.0 152.4h0M328.0 154.3h0M328.1 156.6h0M330.2 146.7h0M330.1 149.2h0M330.4 150.7h0M330.5 152.2h0M330.4 153.9h0M330.3 157.6h0M330.3 150.1h0M330.1 152.3h0M330.2 155.8h0M331.1 149.4h0M331.2 151.8h0M331.4 150.2h0M331.4 152.4h0M331.2 153.4h0M331.2 154.5h0M331.2 156.7h0M332.0 149.0h0M332.0 152.3h0M332.1 154.3h0M331.9 148.4h0M331.8 149.7h0M331.6 153.5h0M331.9 154.8h0M331.9 156.8h0M333.0 148.5h0M332.9 151.9h0M333.1 153.5h0M333.2 154.7h0M333.2 156.1h0M333.0 148.4h0M333.0 150.2h0M333.2 154.4h0M333.2 156.4h0M334.3 147.7h0M334.3 148.9h0M334.3 150.5h0M334.3 151.9h0M333.9 148.8h0M334.1 151.0h0M334.1 153.6h0M334.8 148.0h0M334.9 149.4h0M334.6 151.1h0M334.6 153.5h0M334.7 154.7h0M334.7 155.9h0M335.1 146.6h0M335.2 149.2h0M335.1 151.1h0M335.3 153.3h0M335.8 147.9h0M335.9 150.2h0M336.0 152.1h0M335.9 153.8h0M336.0 155.0h0M335.6 147.2h0M335.8 149.7h0M335.7 152.0h0M335.7 153.0h0M336.9 149.6h0M336.8 151.2h0M336.9 153.6h0M336.9 156.1h0M336.7 158.2h0M337.0 150.2h0M337.0 152.4h0M336.9 153.6h0M337.0 155.3h0M338.0 148.5h0M338.2 149.7h0M338.0 151.5h0M338.0 153.5h0M338.1 156.1h0M338.9 146.4h0M338.7 148.7h0M338.9 149.8h0M338.7 152.4h0M339.0 154.5h0M339.7 144.9h0M339.8 147.4h0M339.7 148.7h0M339.5 150.5h0M339.8 152.7h0M339.7 155.1h0M340.1 146.4h0M339.8 150.3h0M340.0 152.0h0M340.1 153.0h0M339.9 155.4h0M340.0 157.6h0M341.3 147.4h0M341.3 149.4h0M341.4 151.5h0M341.4 152.8h0M341.2 154.5h0M341.3 150.0h0M341.5 152.3h0M341.3 154.9h0M303.5 130.8h0M303.5 132.8h0M303.3 135.0h0M298.0 137.2h0M298.3 139.2h0M278.5 131.4h0M278.5 133.0h0M262.5 146.0h0M262.5 149.0h0M263.0 152.0h0M262.5 155.0h0M263.0 157.5h0M267.0 146.0h0M267.5 149.0h0M267.0 152.0h0M267.0 155.0h0M267.5 157.5h0M265.0 150.0h0M277.5 156.5h0M280.0 155.0h0M285.0 157.0h0M284.5 159.5h0M291.3 158.7h0M289.6 140.1h0M288.0 145.0h0M292.0 147.0h0M267.5 168.0h0M267.5 166.5h0M279.7 168.6h0M293.0 167.0h0M298.5 165.0h0M300.0 168.0h0M293.5 168.0h0M340.1 133.7h0M321.5 163.4h0M328.5 166.3h0M337.8 163.4h0M309.5 158.5h0" fill="none" stroke="#159bf5" stroke-width="2.6" stroke-linecap="round"/>
<rect x="294.1" y="109.0" width="14.60" height="83.8" fill="#b3b3b3" fill-opacity="0.4" stroke="#a0a0a0" stroke-opacity="0.5" stroke-width="1.2"/>
<line x1="265.30" y1="109.0" x2="265.30" y2="114.5" stroke="#4d4d4d" stroke-width="1"/>
<line x1="265.30" y1="192.8" x2="265.30" y2="187.3" stroke="#4d4d4d" stroke-width="1"/>
<line x1="301.10" y1="109.0" x2="301.10" y2="114.5" stroke="#4d4d4d" stroke-width="1"/>
<line x1="301.10" y1="192.8" x2="301.10" y2="187.3" stroke="#4d4d4d" stroke-width="1"/>
<line x1="336.90" y1="109.0" x2="336.90" y2="114.5" stroke="#4d4d4d" stroke-width="1"/>
<line x1="336.90" y1="192.8" x2="336.90" y2="187.3" stroke="#4d4d4d" stroke-width="1"/>
<line x1="229.5" y1="129.90" x2="235.0" y2="129.90" stroke="#4d4d4d" stroke-width="1"/>
<line x1="372.7" y1="129.90" x2="367.2" y2="129.90" stroke="#4d4d4d" stroke-width="1"/>
<line x1="229.5" y1="150.90" x2="235.0" y2="150.90" stroke="#4d4d4d" stroke-width="1"/>
<line x1="372.7" y1="150.90" x2="367.2" y2="150.90" stroke="#4d4d4d" stroke-width="1"/>
<line x1="229.5" y1="171.90" x2="235.0" y2="171.90" stroke="#4d4d4d" stroke-width="1"/>
<line x1="372.7" y1="171.90" x2="367.2" y2="171.90" stroke="#4d4d4d" stroke-width="1"/>
<rect x="229.5" y="109.0" width="143.2" height="83.8" fill="none" stroke="#4d4d4d" stroke-width="1"/>
<text transform="translate(239.50 124.90) scale(1 1.06)" font-size="14.3" fill="#159bf5" stroke="#159bf5" stroke-width="0.15">ISR</text>
<text transform="translate(367.20 124.90) scale(1 1.06)" font-size="14.3" fill="#ff0000" stroke="#ff0000" stroke-width="0.15" text-anchor="end">C08</text>
</g>
<g>
<line x1="394.6" y1="129.90" x2="537.8" y2="129.90" stroke="#555555" stroke-width="1" stroke-dasharray="3 2.8" stroke-dashoffset="-0.7"/>
<line x1="394.6" y1="150.90" x2="537.8" y2="150.90" stroke="#555555" stroke-width="1" stroke-dasharray="3 2.8" stroke-dashoffset="-0.7"/>
<line x1="394.6" y1="171.90" x2="537.8" y2="171.90" stroke="#555555" stroke-width="1" stroke-dasharray="3 2.8" stroke-dashoffset="-0.7"/>
<path d="M436.7 150.2h0M436.5 154.3h0M437.6 150.3h0M438.3 149.3h0M438.9 152.9h0M439.4 157.3h0M439.2 148.0h0M440.3 150.6h0M439.7 153.4h0M440.7 148.1h0M441.4 147.8h0M440.9 152.2h0M442.5 146.6h0M442.3 149.6h0M441.6 154.3h0M442.6 154.2h0M443.3 148.5h0M444.1 149.8h0M444.4 151.4h0M444.5 147.0h0M445.3 152.7h0M445.2 152.0h0M445.6 152.5h0M445.6 155.3h0M446.0 155.2h0M446.7 150.7h0M446.7 150.5h0M448.0 149.7h0M447.7 147.1h0M447.8 153.8h0M448.7 152.2h0M449.0 152.8h0M449.4 154.1h0M450.3 155.5h0M450.5 153.3h0M449.6 150.6h0M450.7 147.3h0M451.2 152.0h0M451.3 150.3h0M452.1 151.5h0M452.3 149.9h0M451.6 151.7h0M452.5 147.4h0M452.9 154.2h0M452.9 147.5h0M453.9 151.6h0M453.8 148.5h0M453.5 150.0h0M455.2 149.3h0M455.2 150.7h0M455.5 150.6h0M455.9 148.2h0M456.1 152.0h0M456.0 148.3h0M457.5 154.0h0M457.2 151.8h0M457.4 149.6h0M457.6 151.2h0M457.9 147.7h0M458.6 152.6h0M459.0 147.9h0M466.2 136.5h0M466.2 157.9h0M466.3 139.9h0M466.1 142.1h0M466.2 144.0h0M466.4 146.1h0M466.3 148.0h0M466.2 150.0h0M466.1 151.7h0M466.1 154.5h0M466.3 155.5h0M466.4 156.9h0M502.5 137.3h0M502.8 144.5h0M502.7 141.1h0M502.9 143.5h0M460.4 149.3h0M460.4 151.3h0M460.7 146.1h0M460.6 148.0h0M460.6 150.4h0M460.6 152.6h0M460.9 148.1h0M461.0 151.9h0M461.0 153.7h0M462.0 146.1h0M462.3 147.5h0M462.1 148.9h0M462.2 150.8h0M462.1 152.1h0M462.2 154.0h0M467.7 143.9h0M467.7 148.0h0M468.0 150.4h0M467.8 152.3h0M467.7 153.9h0M468.6 145.2h0M468.6 146.3h0M468.4 148.2h0M468.7 149.6h0M468.6 151.2h0M468.6 152.4h0M468.4 154.2h0M470.3 146.5h0M470.5 147.6h0M470.4 149.6h0M470.3 152.1h0M470.5 154.3h0M471.3 151.9h0M471.4 153.2h0M471.2 155.5h0M470.9 145.7h0M470.9 147.8h0M470.7 149.0h0M470.7 151.3h0M470.8 153.2h0M473.0 147.8h0M473.2 149.6h0M473.3 152.0h0M473.6 147.7h0M473.9 149.3h0M473.8 145.6h0M473.9 147.8h0M473.6 149.0h0M473.6 151.6h0M475.3 145.0h0M475.1 147.5h0M475.3 149.4h0M475.2 153.7h0M475.9 146.7h0M475.7 148.7h0M475.7 149.7h0M475.9 151.0h0M475.6 152.6h0M475.9 153.7h0M476.0 148.8h0M475.9 150.1h0M475.8 153.6h0M476.1 155.3h0M476.9 145.0h0M476.7 146.7h0M476.6 147.9h0M476.6 150.0h0M476.6 152.0h0M476.7 153.7h0M476.7 155.4h0M477.3 146.9h0M477.4 149.3h0M477.4 153.1h0M478.3 146.4h0M478.1 147.7h0M478.2 149.8h0M478.3 152.0h0M478.2 153.3h0M478.0 154.8h0M478.3 156.1h0M479.1 146.0h0M479.1 147.2h0M478.9 149.6h0M478.8 150.9h0M479.0 153.5h0M478.8 154.6h0M479.9 143.9h0M479.9 145.5h0M479.9 146.5h0M479.7 150.2h0M479.8 152.2h0M480.6 142.6h0M480.7 145.8h0M480.8 147.5h0M480.5 149.9h0M480.7 151.3h0M480.7 153.7h0M480.8 146.5h0M481.1 148.0h0M480.7 149.5h0M481.1 152.7h0M481.0 155.2h0M482.1 145.9h0M482.2 147.5h0M482.3 149.8h0M482.4 151.8h0M482.4 153.4h0M483.0 145.9h0M483.0 149.8h0M483.1 150.8h0M483.0 152.3h0M483.0 153.5h0M483.2 155.4h0M484.1 145.4h0M484.3 146.6h0M484.2 151.1h0M484.0 152.1h0M484.2 153.7h0M484.7 145.7h0M484.6 148.1h0M484.8 149.6h0M484.7 151.5h0M484.6 152.9h0M484.8 155.5h0M485.9 145.4h0M485.9 147.0h0M486.1 151.6h0M486.1 153.2h0M486.9 143.7h0M486.8 146.0h0M486.7 148.4h0M486.7 150.4h0M488.0 146.9h0M488.3 148.5h0M488.3 153.0h0M488.4 156.6h0M489.0 148.6h0M488.9 150.4h0M488.7 151.9h0M489.0 153.6h0M488.7 154.7h0M488.8 150.2h0M488.5 151.7h0M488.8 153.1h0M488.8 155.1h0M490.0 146.1h0M490.3 147.5h0M490.4 148.8h0M490.1 151.4h0M490.1 153.1h0M490.3 154.8h0M490.1 156.6h0M491.2 148.7h0M491.1 150.2h0M490.9 155.4h0M491.1 156.9h0M492.3 145.4h0M492.3 146.5h0M492.4 149.0h0M492.3 151.1h0M492.6 153.7h0M492.5 155.1h0M491.7 148.9h0M491.9 150.1h0M492.0 151.7h0M491.9 154.2h0M491.8 156.3h0M493.4 147.4h0M493.2 148.6h0M493.2 151.1h0M493.1 153.5h0M494.1 148.3h0M494.2 150.1h0M494.3 151.1h0M494.0 153.2h0M494.1 154.4h0M494.2 146.7h0M494.2 151.3h0M493.9 155.3h0M495.0 144.9h0M494.8 146.5h0M494.9 148.9h0M494.8 151.1h0M494.8 153.6h0M495.0 154.7h0M494.7 155.8h0M495.3 146.4h0M495.5 151.9h0M495.6 154.1h0M495.3 156.6h0M496.0 148.6h0M495.7 150.8h0M495.8 152.4h0M497.2 146.7h0M497.0 148.2h0M497.2 150.1h0M497.0 152.5h0M497.1 154.9h0M497.1 156.2h0M498.1 146.5h0M498.2 148.9h0M498.2 150.9h0M498.0 152.5h0M498.1 153.9h0M498.1 155.7h0M500.3 144.0h0M500.4 146.6h0M500.4 148.1h0M500.1 150.1h0M500.4 152.5h0M500.1 156.4h0M500.6 146.0h0M500.7 151.0h0M500.6 152.3h0M500.7 156.3h0M500.7 158.6h0M500.9 144.6h0M501.1 146.3h0M501.2 147.8h0M501.0 149.5h0M501.1 150.6h0M501.0 152.1h0M501.1 153.3h0M501.0 157.0h0M502.4 145.5h0M502.2 146.5h0M502.4 148.6h0M502.5 150.4h0M502.2 152.0h0M502.3 154.4h0M502.2 155.9h0M501.9 146.4h0M501.8 147.5h0M501.7 148.6h0M501.7 150.5h0M501.9 152.8h0M501.7 154.8h0M502.0 156.4h0M501.8 157.6h0M502.0 158.7h0M502.0 159.9h0M503.4 149.6h0M503.3 151.5h0M503.4 154.1h0M503.4 155.6h0M503.4 157.5h0M503.4 159.6h0M503.5 161.1h0M503.2 162.8h0M504.3 149.8h0M504.0 151.6h0M503.9 153.1h0M504.1 155.1h0M504.2 156.7h0M504.0 157.9h0M504.2 160.8h0M505.1 149.9h0M505.0 152.2h0M504.9 154.2h0M504.9 155.2h0M504.9 156.6h0M505.2 151.2h0M505.2 153.2h0M505.2 154.4h0M505.2 158.9h0M464.8 127.8h0M464.8 130.0h0M464.8 132.0h0M444.0 128.5h0M444.0 131.0h0M428.0 142.0h0M428.0 145.0h0M428.5 148.0h0M429.0 150.0h0M433.0 142.0h0M433.0 145.0h0M433.5 148.0h0M434.0 150.0h0M432.0 153.5h0M432.5 157.5h0M432.5 159.5h0M449.0 140.0h0M443.0 159.5h0M445.0 168.0h0M449.0 156.0h0M452.0 157.0h0M455.0 159.5h0M458.0 171.0h0M465.0 129.0h0M466.5 163.0h0M468.0 165.0h0M467.5 174.0h0M459.0 171.0h0M505.5 132.0h0M479.0 160.4h0M492.7 164.5h0M502.7 166.7h0M499.0 141.0h0M468.5 122.7h0M468.5 124.8h0M468.5 126.9h0M468.5 129.0h0M468.5 131.0h0M494.0 127.0h0M494.0 130.0h0M494.0 134.0h0M494.0 138.0h0" fill="none" stroke="#58d80c" stroke-width="2.6" stroke-linecap="round"/>
<rect x="459.3" y="109.0" width="14.10" height="83.8" fill="#b3b3b3" fill-opacity="0.4" stroke="#a0a0a0" stroke-opacity="0.5" stroke-width="1.2"/>
<line x1="430.40" y1="109.0" x2="430.40" y2="114.5" stroke="#4d4d4d" stroke-width="1"/>
<line x1="430.40" y1="192.8" x2="430.40" y2="187.3" stroke="#4d4d4d" stroke-width="1"/>
<line x1="466.20" y1="109.0" x2="466.20" y2="114.5" stroke="#4d4d4d" stroke-width="1"/>
<line x1="466.20" y1="192.8" x2="466.20" y2="187.3" stroke="#4d4d4d" stroke-width="1"/>
<line x1="502.00" y1="109.0" x2="502.00" y2="114.5" stroke="#4d4d4d" stroke-width="1"/>
<line x1="502.00" y1="192.8" x2="502.00" y2="187.3" stroke="#4d4d4d" stroke-width="1"/>
<line x1="394.6" y1="129.90" x2="400.1" y2="129.90" stroke="#4d4d4d" stroke-width="1"/>
<line x1="537.8" y1="129.90" x2="532.3" y2="129.90" stroke="#4d4d4d" stroke-width="1"/>
<line x1="394.6" y1="150.90" x2="400.1" y2="150.90" stroke="#4d4d4d" stroke-width="1"/>
<line x1="537.8" y1="150.90" x2="532.3" y2="150.90" stroke="#4d4d4d" stroke-width="1"/>
<line x1="394.6" y1="171.90" x2="400.1" y2="171.90" stroke="#4d4d4d" stroke-width="1"/>
<line x1="537.8" y1="171.90" x2="532.3" y2="171.90" stroke="#4d4d4d" stroke-width="1"/>
<rect x="394.6" y="109.0" width="143.2" height="83.8" fill="none" stroke="#4d4d4d" stroke-width="1"/>
<text transform="translate(404.60 124.90) scale(1 1.06)" font-size="14.3" fill="#58d80c" stroke="#58d80c" stroke-width="0.15">ISU</text>
<text transform="translate(532.30 124.90) scale(1 1.06)" font-size="14.3" fill="#ff0000" stroke="#ff0000" stroke-width="0.15" text-anchor="end">C08</text>
</g>
<g>
<line x1="64.5" y1="226.40" x2="207.7" y2="226.40" stroke="#555555" stroke-width="1" stroke-dasharray="3 2.8" stroke-dashoffset="-0.7"/>
<line x1="64.5" y1="247.40" x2="207.7" y2="247.40" stroke="#555555" stroke-width="1" stroke-dasharray="3 2.8" stroke-dashoffset="-0.7"/>
<line x1="64.5" y1="268.40" x2="207.7" y2="268.40" stroke="#555555" stroke-width="1" stroke-dasharray="3 2.8" stroke-dashoffset="-0.7"/>
<path d="M99.1 243.7h0M99.1 252.0h0M98.7 245.2h0M98.9 247.9h0M98.9 250.2h0M98.7 251.7h0M99.8 242.9h0M99.7 252.8h0M100.0 244.6h0M99.8 246.7h0M99.8 249.2h0M100.0 251.4h0M100.9 243.6h0M101.0 253.5h0M100.6 244.8h0M100.7 246.8h0M100.6 249.6h0M100.8 251.0h0M100.8 252.8h0M101.6 244.7h0M102.0 253.5h0M101.5 246.3h0M101.8 248.4h0M101.9 252.0h0M102.6 245.3h0M102.5 253.0h0M102.9 247.5h0M102.5 249.8h0M102.9 252.1h0M104.0 245.0h0M104.1 252.8h0M104.1 246.4h0M103.7 248.4h0M104.0 252.6h0M104.9 243.9h0M105.1 254.1h0M105.0 246.5h0M105.1 248.2h0M104.9 251.6h0M105.2 253.1h0M105.6 243.8h0M105.9 253.6h0M105.6 246.3h0M105.6 247.2h0M105.8 250.0h0M105.7 252.4h0M106.8 244.0h0M106.7 253.4h0M106.9 245.5h0M106.6 247.6h0M106.6 249.9h0M106.4 250.9h0M108.2 245.4h0M108.2 254.8h0M108.3 247.7h0M108.3 249.0h0M108.3 250.9h0M107.9 254.6h0M109.0 246.0h0M108.9 252.8h0M108.8 247.9h0M109.0 249.4h0M109.0 251.0h0M109.9 245.3h0M109.8 251.3h0M109.9 248.1h0M111.1 244.6h0M110.7 251.4h0M110.7 246.9h0M110.9 251.1h0M111.9 244.0h0M111.8 249.1h0M111.5 246.1h0M111.8 248.9h0M112.8 244.6h0M112.8 247.8h0M112.4 247.3h0M114.1 243.8h0M114.1 248.1h0M114.0 246.3h0M113.9 248.0h0M114.7 243.7h0M115.1 247.1h0M115.2 246.0h0M114.8 247.0h0M115.5 243.9h0M115.6 248.4h0M115.4 244.9h0M115.5 246.1h0M115.8 246.9h0M117.0 243.1h0M116.9 248.2h0M116.8 245.0h0M116.7 247.2h0M117.2 240.6h0M117.7 243.5h0M117.7 247.6h0M119.1 243.9h0M119.0 247.3h0M119.3 245.5h0M118.8 246.5h0M119.7 244.2h0M119.4 248.5h0M119.8 245.0h0M120.3 244.1h0M120.5 248.8h0M120.4 246.1h0M120.7 247.7h0M121.6 244.0h0M121.7 251.4h0M121.7 245.3h0M121.6 247.0h0M121.8 248.2h0M121.6 249.5h0M121.6 251.1h0M122.0 254.1h0M122.7 243.0h0M122.9 254.5h0M123.0 245.3h0M122.7 246.5h0M122.8 248.0h0M122.9 249.3h0M122.8 251.8h0M123.6 243.1h0M123.9 255.1h0M123.6 244.4h0M123.5 246.0h0M123.6 247.1h0M123.9 250.1h0M123.9 254.1h0M124.6 242.5h0M124.7 255.2h0M124.6 243.9h0M124.7 245.5h0M124.6 247.5h0M124.6 249.8h0M124.6 251.7h0M124.6 254.4h0M125.8 242.6h0M125.7 256.2h0M125.8 244.7h0M126.1 247.0h0M125.9 248.1h0M125.8 250.8h0M125.7 255.4h0M126.7 242.2h0M127.0 253.7h0M126.8 246.3h0M126.8 248.5h0M126.9 249.4h0M126.5 251.2h0M126.9 253.5h0M127.5 242.7h0M127.7 252.3h0M127.6 246.7h0M127.8 248.1h0M127.7 252.2h0M129.6 252.9h0M129.9 251.5h0M129.5 252.2h0M129.4 251.5h0M129.5 245.8h0M129.7 253.4h0M129.3 242.2h0M129.8 253.5h0M129.3 252.3h0M130.5 239.6h0M130.2 253.0h0M130.1 239.5h0M130.4 241.9h0M130.6 241.5h0M130.4 251.4h0M130.6 240.4h0M130.7 242.2h0M130.1 251.5h0M130.2 247.5h0M130.8 247.9h0M130.5 243.6h0M131.8 243.4h0M131.6 248.4h0M131.5 252.9h0M131.4 252.8h0M131.8 253.0h0M131.4 241.2h0M131.7 252.2h0M131.9 243.6h0M131.8 249.3h0M131.6 247.8h0M131.1 252.6h0M132.8 255.6h0M132.1 241.4h0M132.6 248.3h0M132.3 242.3h0M132.4 239.2h0M132.8 238.2h0M132.5 247.3h0M132.6 250.4h0M132.2 237.8h0M132.3 236.4h0M132.6 251.8h0M132.8 246.3h0M132.8 240.6h0M133.9 239.4h0M133.5 254.3h0M133.9 254.1h0M133.5 248.7h0M133.7 245.6h0M133.8 244.3h0M133.6 254.5h0M133.8 244.4h0M133.8 245.2h0M133.8 248.0h0M133.3 246.1h0M133.7 243.3h0M133.3 250.7h0M134.1 241.8h0M134.9 253.7h0M134.4 243.7h0M134.6 246.4h0M134.5 242.2h0M134.8 245.4h0M134.6 253.0h0M134.4 253.1h0M134.8 245.4h0M134.7 244.6h0M134.8 246.3h0M135.8 252.1h0M135.8 248.1h0M135.3 243.3h0M135.6 246.7h0M135.4 251.8h0M135.2 243.2h0M135.7 242.6h0M135.7 248.6h0M135.7 251.0h0M136.7 240.2h0M136.2 251.2h0M136.9 251.1h0M136.7 249.7h0M136.1 247.4h0M136.2 250.4h0M136.8 241.0h0M136.6 243.5h0M136.8 239.3h0M136.9 241.2h0M136.2 247.6h0M137.4 237.2h0M137.2 251.2h0M137.5 245.6h0M137.6 251.0h0M137.1 241.4h0M137.3 241.1h0M137.6 249.2h0M137.5 244.7h0M137.6 243.2h0M137.3 244.2h0M137.7 246.1h0M137.3 241.0h0M138.5 238.1h0M138.2 250.6h0M138.2 242.2h0M138.2 237.8h0M138.4 250.9h0M138.2 249.6h0M138.9 243.5h0M138.6 248.4h0M138.2 245.5h0M138.4 246.1h0M138.8 245.1h0M139.5 243.9h0M139.8 241.0h0M139.8 250.3h0M139.3 249.8h0M139.8 243.5h0M139.8 250.7h0M139.3 240.8h0M139.8 248.2h0M140.6 242.1h0M140.5 249.0h0M140.7 242.3h0M140.4 248.2h0M140.6 243.8h0M140.3 242.9h0M140.5 243.1h0M140.3 246.8h0M141.7 242.3h0M141.7 248.3h0M141.3 243.5h0M141.9 247.4h0M141.9 243.5h0M141.5 248.6h0M141.7 244.0h0M141.7 248.5h0M142.5 247.7h0M142.2 243.0h0M142.7 242.5h0M142.4 245.9h0M142.5 248.0h0M142.5 242.0h0M143.6 241.1h0M144.0 246.0h0M143.7 243.4h0M143.9 245.5h0M143.7 248.8h0M145.4 239.9h0M145.2 246.6h0M145.4 241.8h0M145.2 244.2h0M145.4 246.5h0M145.8 240.5h0M146.0 248.5h0M145.9 243.9h0M145.9 245.0h0M145.7 246.3h0M146.1 247.7h0M146.8 240.9h0M146.7 250.5h0M146.9 241.8h0M147.0 243.3h0M146.8 245.9h0M147.0 247.3h0M146.9 249.0h0M147.9 241.0h0M148.2 248.5h0M148.2 242.6h0M148.2 243.6h0M147.8 244.7h0M148.1 246.6h0M149.0 240.9h0M149.1 247.4h0M149.4 242.3h0M149.1 244.9h0M149.2 247.1h0M150.0 241.2h0M150.0 246.7h0M149.9 243.3h0M149.9 245.0h0M151.2 242.5h0M150.9 246.9h0M151.1 243.5h0M151.0 245.9h0M152.0 242.1h0M152.0 248.6h0M151.8 246.9h0M151.9 248.3h0M152.9 242.5h0M152.6 247.8h0M152.8 244.6h0M152.9 247.4h0M154.2 242.7h0M154.0 249.0h0M154.1 244.8h0M154.1 246.1h0M154.1 248.2h0M154.2 249.9h0M154.8 243.4h0M154.6 248.4h0M154.9 245.2h0M154.8 247.4h0M156.0 244.4h0M155.7 248.4h0M155.6 246.5h0M156.9 242.1h0M157.1 249.6h0M156.9 243.3h0M156.8 244.6h0M156.8 246.0h0M157.1 248.3h0M157.9 239.9h0M158.3 249.3h0M158.3 241.5h0M158.1 244.1h0M158.0 245.8h0M157.8 247.7h0M158.3 249.3h0M158.9 240.6h0M158.9 250.0h0M158.6 242.7h0M158.9 246.2h0M158.9 248.9h0M159.7 240.8h0M159.9 249.7h0M159.9 243.3h0M159.8 244.9h0M159.8 246.7h0M160.1 247.9h0M159.8 248.9h0M159.8 252.1h0M161.1 240.9h0M160.8 247.2h0M160.9 243.4h0M160.7 245.0h0M160.8 246.4h0M161.7 240.3h0M161.8 248.5h0M161.6 242.8h0M162.0 243.7h0M162.8 242.2h0M163.1 249.2h0M163.1 243.2h0M162.9 245.4h0M163.0 247.0h0M163.5 241.3h0M163.9 249.5h0M163.5 242.9h0M163.7 244.5h0M163.7 246.5h0M163.5 247.9h0M163.8 249.3h0M165.0 241.7h0M165.0 248.3h0M164.8 243.9h0M164.9 245.6h0M165.0 247.7h0M166.2 241.3h0M166.0 248.4h0M166.2 242.4h0M166.3 243.8h0M166.1 244.9h0M166.4 246.8h0M167.2 240.6h0M167.1 247.7h0M166.9 242.2h0M166.9 244.2h0M167.0 245.7h0M166.9 247.6h0M168.0 241.0h0M168.1 249.3h0M167.9 243.6h0M168.1 245.9h0M169.2 240.3h0M169.2 250.5h0M169.2 244.0h0M169.0 245.3h0M169.2 247.0h0M170.0 240.5h0M169.9 251.1h0M169.9 242.8h0M170.0 245.1h0M169.6 247.3h0M169.7 249.9h0M171.4 239.7h0M171.4 252.2h0M171.0 241.5h0M171.1 242.6h0M171.3 245.4h0M171.4 246.2h0M171.3 247.4h0M171.3 249.7h0M171.1 252.1h0M171.8 239.7h0M171.8 254.8h0M171.6 243.5h0M171.9 244.8h0M171.6 246.0h0M171.7 247.3h0M172.0 248.6h0M171.6 250.6h0M171.5 253.9h0M173.1 240.5h0M172.8 253.1h0M173.0 243.2h0M172.8 244.7h0M173.0 246.0h0M173.0 248.4h0M173.0 249.8h0M173.0 251.1h0M172.8 252.3h0M132.5 235.4h0M132.5 237.4h0M138.0 236.0h0M138.0 238.0h0M137.5 240.0h0M129.3 220.0h0M133.5 258.0h0M137.5 259.5h0M137.7 262.5h0M134.5 263.5h0M134.5 267.0h0M133.0 256.0h0M166.5 235.0h0M171.5 236.5h0M161.5 237.0h0M145.5 256.0h0M154.0 260.0h0M154.5 257.5h0M162.0 257.0h0M161.5 259.5h0M165.0 255.5h0M169.5 256.0h0M171.5 258.0h0M162.5 253.0h0M147.5 252.5h0" fill="none" stroke="#ff6a1c" stroke-width="2.6" stroke-linecap="round"/>
<rect x="129.1" y="205.5" width="14.60" height="83.8" fill="#b3b3b3" fill-opacity="0.4" stroke="#a0a0a0" stroke-opacity="0.5" stroke-width="1.2"/>
<line x1="100.30" y1="205.5" x2="100.30" y2="211.0" stroke="#4d4d4d" stroke-width="1"/>
<line x1="100.30" y1="289.3" x2="100.30" y2="283.8" stroke="#4d4d4d" stroke-width="1"/>
<line x1="136.10" y1="205.5" x2="136.10" y2="211.0" stroke="#4d4d4d" stroke-width="1"/>
<line x1="136.10" y1="289.3" x2="136.10" y2="283.8" stroke="#4d4d4d" stroke-width="1"/>
<line x1="171.90" y1="205.5" x2="171.90" y2="211.0" stroke="#4d4d4d" stroke-width="1"/>
<line x1="171.90" y1="289.3" x2="171.90" y2="283.8" stroke="#4d4d4d" stroke-width="1"/>
<line x1="64.5" y1="226.40" x2="70.0" y2="226.40" stroke="#4d4d4d" stroke-width="1"/>
<line x1="207.7" y1="226.40" x2="202.2" y2="226.40" stroke="#4d4d4d" stroke-width="1"/>
<line x1="64.5" y1="247.40" x2="70.0" y2="247.40" stroke="#4d4d4d" stroke-width="1"/>
<line x1="207.7" y1="247.40" x2="202.2" y2="247.40" stroke="#4d4d4d" stroke-width="1"/>
<line x1="64.5" y1="268.40" x2="70.0" y2="268.40" stroke="#4d4d4d" stroke-width="1"/>
<line x1="207.7" y1="268.40" x2="202.2" y2="268.40" stroke="#4d4d4d" stroke-width="1"/>
<rect x="64.5" y="205.5" width="143.2" height="83.8" fill="none" stroke="#4d4d4d" stroke-width="1"/>
<text transform="translate(74.50 221.40) scale(1 1.06)" font-size="14.3" fill="#ff6a1c" stroke="#ff6a1c" stroke-width="0.15">ISC</text>
<text transform="translate(202.20 221.40) scale(1 1.06)" font-size="14.3" fill="#ff0000" stroke="#ff0000" stroke-width="0.15" text-anchor="end">C10</text>
</g>
<g>
<line x1="229.5" y1="226.40" x2="372.7" y2="226.40" stroke="#555555" stroke-width="1" stroke-dasharray="3 2.8" stroke-dashoffset="-0.7"/>
<line x1="229.5" y1="247.40" x2="372.7" y2="247.40" stroke="#555555" stroke-width="1" stroke-dasharray="3 2.8" stroke-dashoffset="-0.7"/>
<line x1="229.5" y1="268.40" x2="372.7" y2="268.40" stroke="#555555" stroke-width="1" stroke-dasharray="3 2.8" stroke-dashoffset="-0.7"/>
<path d="M264.0 241.0h0M263.8 251.9h0M263.9 243.7h0M263.8 245.1h0M264.1 246.9h0M263.7 249.0h0M263.7 251.6h0M263.9 239.7h0M265.1 241.2h0M264.8 252.3h0M264.8 242.4h0M265.0 243.5h0M264.9 245.0h0M265.1 246.1h0M265.1 247.9h0M265.1 250.3h0M266.2 243.5h0M266.0 250.8h0M266.1 247.8h0M266.1 249.5h0M266.1 250.7h0M267.0 244.3h0M267.0 250.9h0M266.6 246.2h0M266.7 247.6h0M267.6 244.2h0M267.8 251.5h0M267.7 247.0h0M267.5 249.2h0M267.7 250.9h0M268.8 245.6h0M268.5 250.5h0M268.4 248.1h0M268.6 249.4h0M269.7 244.6h0M269.6 250.6h0M269.7 246.4h0M269.7 247.6h0M269.7 250.2h0M269.9 254.4h0M271.1 244.7h0M271.1 252.1h0M270.9 246.0h0M271.3 247.8h0M271.3 248.7h0M271.1 251.1h0M271.2 254.2h0M271.7 243.4h0M271.6 253.6h0M271.7 245.5h0M271.4 247.6h0M271.7 250.3h0M271.5 252.6h0M272.7 242.9h0M272.8 252.9h0M272.9 245.1h0M272.6 247.1h0M272.8 248.3h0M272.7 249.3h0M273.0 251.3h0M273.7 242.9h0M273.6 252.3h0M273.8 246.6h0M273.7 248.9h0M273.6 250.1h0M273.6 251.7h0M275.1 244.6h0M274.9 249.7h0M274.8 249.3h0M275.7 245.0h0M275.6 249.9h0M275.7 247.4h0M275.5 248.4h0M276.3 246.0h0M276.3 249.8h0M276.8 247.2h0M276.8 248.4h0M278.0 245.0h0M278.0 250.7h0M277.7 246.2h0M277.7 247.9h0M277.8 249.5h0M278.3 244.5h0M278.7 250.1h0M278.6 247.3h0M278.5 252.8h0M279.5 243.9h0M279.8 250.7h0M279.9 246.5h0M279.8 248.8h0M281.0 244.0h0M281.0 250.5h0M280.6 245.8h0M280.8 247.8h0M280.9 249.7h0M280.5 242.1h0M281.7 244.8h0M281.6 251.4h0M281.8 246.2h0M281.7 247.8h0M281.5 248.7h0M281.3 250.2h0M283.1 244.7h0M283.1 250.6h0M283.0 246.8h0M282.9 248.0h0M283.0 250.1h0M283.6 244.9h0M283.7 251.5h0M283.6 247.4h0M283.4 248.4h0M283.4 250.3h0M285.2 244.9h0M284.9 250.4h0M284.9 245.8h0M285.0 247.9h0M285.2 249.4h0M286.0 245.0h0M285.7 251.2h0M286.0 247.4h0M285.9 250.0h0M287.2 243.6h0M287.0 251.3h0M287.2 246.0h0M287.1 247.7h0M287.1 250.0h0M287.2 254.4h0M287.4 244.7h0M287.6 252.4h0M287.5 246.8h0M287.6 247.9h0M287.8 249.5h0M287.5 251.3h0M288.9 243.0h0M288.9 253.0h0M288.6 245.1h0M289.0 247.1h0M288.6 249.2h0M289.8 243.3h0M289.8 253.2h0M290.0 245.9h0M289.8 247.6h0M290.0 253.1h0M289.9 240.1h0M290.5 242.2h0M290.5 252.4h0M290.9 244.1h0M290.6 245.4h0M290.8 247.4h0M290.6 248.5h0M290.4 249.8h0M290.8 251.6h0M292.0 242.4h0M291.7 252.9h0M292.0 243.8h0M292.0 246.6h0M291.7 247.8h0M292.1 249.4h0M292.1 250.7h0M292.9 243.4h0M293.0 253.8h0M292.9 244.3h0M292.9 245.4h0M293.0 247.9h0M293.0 249.3h0M292.8 251.5h0M292.9 252.6h0M293.4 243.1h0M293.5 253.2h0M293.7 244.9h0M293.5 247.5h0M293.7 250.3h0M293.8 252.8h0M293.8 255.3h0M295.3 239.4h0M294.9 254.4h0M295.2 250.9h0M294.9 244.2h0M294.8 249.4h0M295.2 249.2h0M294.7 254.6h0M294.7 242.5h0M295.4 253.0h0M294.9 248.3h0M294.7 254.0h0M294.7 240.4h0M296.3 238.4h0M296.3 254.4h0M296.1 244.5h0M296.4 249.6h0M296.0 243.5h0M296.3 244.8h0M295.6 252.2h0M295.9 253.5h0M295.8 248.2h0M296.0 241.8h0M296.2 238.9h0M295.8 239.8h0M296.1 249.8h0M296.8 237.7h0M296.7 245.9h0M297.0 244.5h0M296.9 253.7h0M296.8 250.4h0M296.7 247.7h0M296.7 248.9h0M296.8 245.1h0M296.9 237.6h0M297.4 243.6h0M296.8 240.8h0M297.1 252.6h0M296.6 251.9h0M297.9 237.6h0M298.1 253.6h0M297.8 248.6h0M297.9 242.5h0M298.2 245.1h0M297.7 242.8h0M297.9 238.2h0M298.3 250.5h0M298.2 249.9h0M298.1 250.1h0M297.7 252.7h0M297.9 246.7h0M297.7 245.3h0M299.3 239.4h0M298.6 252.1h0M298.8 242.4h0M298.7 248.8h0M299.0 241.9h0M298.8 250.4h0M298.6 245.9h0M298.7 244.1h0M298.9 249.3h0M298.8 244.0h0M299.2 250.0h0M299.9 240.5h0M300.1 252.6h0M300.2 244.3h0M299.8 248.5h0M300.0 241.5h0M299.7 249.1h0M299.6 240.7h0M300.0 243.1h0M299.7 245.4h0M300.2 248.1h0M300.3 247.1h0M301.1 239.7h0M300.6 252.2h0M301.0 245.1h0M301.2 239.8h0M301.3 243.0h0M301.1 248.1h0M300.7 241.8h0M301.2 245.0h0M301.0 240.1h0M300.9 244.0h0M301.0 239.4h0M302.3 238.4h0M301.8 253.1h0M302.2 244.5h0M302.3 252.1h0M302.4 242.6h0M302.3 242.5h0M301.8 243.9h0M301.9 250.5h0M301.7 241.0h0M301.6 242.1h0M301.7 250.0h0M302.0 245.0h0M301.8 250.7h0M303.1 253.6h0M302.9 242.2h0M302.8 243.2h0M303.0 242.1h0M303.4 239.1h0M303.1 246.8h0M302.9 241.3h0M303.0 235.9h0M303.0 238.2h0M302.9 246.3h0M303.3 242.9h0M303.1 240.0h0M302.9 246.4h0M304.4 238.0h0M304.2 253.2h0M303.9 250.3h0M304.0 245.9h0M303.7 243.2h0M303.7 243.9h0M304.2 251.8h0M303.8 245.5h0M303.6 242.4h0M303.8 240.1h0M304.0 250.4h0M303.9 243.9h0M303.8 244.9h0M305.2 239.5h0M305.0 252.2h0M304.8 241.3h0M304.8 247.6h0M304.7 245.5h0M305.2 245.0h0M305.2 241.2h0M304.8 246.6h0M305.3 247.1h0M305.2 242.3h0M305.4 251.5h0M306.2 250.8h0M306.4 249.9h0M305.9 251.4h0M305.7 241.5h0M305.7 246.6h0M305.8 251.2h0M305.9 248.6h0M306.1 242.3h0M305.6 242.3h0M307.3 240.5h0M307.1 251.2h0M307.4 249.9h0M307.0 249.6h0M307.1 244.9h0M306.9 251.4h0M307.0 241.9h0M307.4 247.6h0M306.8 247.9h0M307.1 249.4h0M308.2 240.8h0M308.1 250.9h0M307.8 245.1h0M307.7 248.0h0M307.7 243.3h0M307.7 246.6h0M308.3 250.4h0M308.3 249.0h0M307.9 243.8h0M307.8 240.7h0M309.0 240.4h0M308.7 249.5h0M308.6 241.5h0M308.7 245.8h0M308.7 247.2h0M309.9 240.3h0M309.6 249.6h0M309.6 242.8h0M309.6 244.3h0M309.8 246.1h0M309.8 248.8h0M311.0 240.2h0M311.1 250.8h0M311.1 242.7h0M311.2 244.4h0M310.9 246.5h0M310.9 248.1h0M310.8 249.3h0M311.8 240.6h0M311.7 251.2h0M312.1 242.6h0M311.7 245.4h0M312.2 251.1h0M313.1 239.2h0M313.2 252.4h0M313.2 240.5h0M313.2 243.1h0M312.9 245.2h0M313.0 246.0h0M312.8 247.2h0M312.8 249.9h0M313.2 251.8h0M314.4 241.2h0M314.3 251.9h0M314.0 243.4h0M314.3 246.0h0M314.3 247.6h0M314.1 248.5h0M314.1 250.5h0M314.1 254.2h0M314.6 242.0h0M314.6 250.7h0M315.0 243.2h0M314.7 244.5h0M314.9 247.0h0M314.9 248.0h0M315.0 250.4h0M315.1 238.9h0M315.9 242.3h0M316.1 250.4h0M316.3 243.1h0M316.0 244.5h0M316.0 248.0h0M316.1 249.9h0M317.1 241.2h0M317.0 249.3h0M317.1 243.9h0M316.8 245.5h0M316.9 246.8h0M316.9 248.5h0M317.6 241.9h0M317.7 248.7h0M317.7 244.9h0M318.8 241.8h0M318.7 247.9h0M318.8 243.2h0M318.7 244.0h0M319.1 247.8h0M320.1 241.5h0M320.1 248.9h0M320.1 245.7h0M320.2 248.0h0M320.8 241.1h0M320.9 251.1h0M320.7 243.1h0M320.9 244.0h0M320.8 247.8h0M321.6 239.4h0M322.0 251.2h0M321.7 241.1h0M321.7 243.2h0M321.6 245.7h0M321.7 247.1h0M321.9 249.4h0M321.7 251.0h0M322.8 239.4h0M322.8 251.9h0M323.1 241.4h0M322.7 244.1h0M323.0 248.2h0M322.6 249.8h0M322.7 251.5h0M323.8 240.0h0M323.8 252.7h0M323.5 240.8h0M323.7 242.1h0M323.9 244.7h0M323.8 247.3h0M323.5 248.5h0M323.7 250.5h0M324.9 242.3h0M324.8 252.5h0M324.9 244.4h0M324.8 246.6h0M324.7 248.5h0M325.2 249.8h0M325.2 252.4h0M326.0 240.4h0M326.1 253.0h0M326.3 241.5h0M326.2 244.3h0M326.4 245.8h0M326.2 248.0h0M326.3 250.0h0M326.1 251.9h0M326.9 241.0h0M326.9 254.0h0M327.0 242.3h0M327.1 244.6h0M327.2 245.6h0M326.8 247.8h0M327.1 251.2h0M328.1 239.3h0M327.7 253.9h0M328.0 241.7h0M327.7 243.0h0M328.0 244.6h0M327.8 245.9h0M327.9 248.5h0M327.8 249.9h0M328.0 252.3h0M328.7 240.1h0M328.7 253.6h0M328.7 241.6h0M328.7 244.0h0M329.0 245.9h0M328.5 249.1h0M328.7 250.0h0M328.6 252.5h0M329.8 239.2h0M329.5 252.3h0M329.7 241.2h0M329.7 243.0h0M329.6 244.4h0M329.6 245.9h0M329.7 247.5h0M329.9 249.1h0M329.5 250.7h0M329.5 252.3h0M331.1 240.1h0M330.9 251.7h0M331.3 241.4h0M331.1 243.3h0M331.1 244.1h0M331.1 245.6h0M331.2 246.4h0M330.8 248.7h0M330.9 250.9h0M332.3 240.7h0M332.2 252.7h0M332.3 243.1h0M332.2 244.0h0M332.2 245.2h0M332.3 247.2h0M332.4 249.3h0M332.2 251.7h0M332.9 239.6h0M332.6 253.8h0M332.7 242.0h0M332.8 243.4h0M332.8 244.5h0M332.8 246.0h0M332.5 247.5h0M332.5 248.6h0M332.9 251.0h0M332.6 252.0h0M333.0 253.1h0M334.1 240.6h0M334.2 255.2h0M334.3 242.9h0M334.3 244.1h0M334.1 246.7h0M334.1 249.1h0M334.3 251.2h0M334.2 252.6h0M334.8 239.6h0M334.8 255.0h0M334.8 242.5h0M335.0 243.9h0M335.0 246.2h0M334.9 248.9h0M335.1 250.0h0M334.8 251.7h0M335.0 253.6h0M335.8 240.1h0M335.8 256.4h0M335.9 242.3h0M335.7 243.2h0M335.8 244.8h0M335.9 245.6h0M335.9 246.7h0M336.1 250.6h0M335.8 253.1h0M337.2 240.7h0M336.9 255.5h0M337.1 242.1h0M337.2 244.5h0M337.1 245.4h0M337.2 246.2h0M337.0 247.5h0M336.9 249.0h0M337.1 250.7h0M337.0 252.8h0M337.2 253.7h0M337.9 240.4h0M338.0 254.4h0M337.9 242.8h0M337.9 244.8h0M337.8 246.5h0M338.2 248.1h0M338.1 250.8h0M338.1 252.8h0M338.0 254.3h0M297.5 235.2h0M297.5 237.2h0M303.0 235.2h0M303.0 237.2h0M297.3 239.3h0M303.2 239.3h0M265.0 257.2h0M276.0 258.5h0M295.5 261.3h0M297.5 258.0h0M295.0 266.0h0M297.0 265.0h0M298.0 268.5h0M299.0 270.5h0M298.0 275.0h0M302.0 259.0h0M303.0 261.0h0M327.0 231.7h0M331.8 234.6h0M319.5 261.0h0M319.0 263.0h0M327.0 259.5h0M329.0 258.0h0M323.0 273.3h0M326.5 260.5h0M327.0 257.0h0" fill="none" stroke="#159bf5" stroke-width="2.6" stroke-linecap="round"/>
<rect x="294.1" y="205.5" width="14.60" height="83.8" fill="#b3b3b3" fill-opacity="0.4" stroke="#a0a0a0" stroke-opacity="0.5" stroke-width="1.2"/>
<line x1="265.30" y1="205.5" x2="265.30" y2="211.0" stroke="#4d4d4d" stroke-width="1"/>
<line x1="265.30" y1="289.3" x2="265.30" y2="283.8" stroke="#4d4d4d" stroke-width="1"/>
<line x1="301.10" y1="205.5" x2="301.10" y2="211.0" stroke="#4d4d4d" stroke-width="1"/>
<line x1="301.10" y1="289.3" x2="301.10" y2="283.8" stroke="#4d4d4d" stroke-width="1"/>
<line x1="336.90" y1="205.5" x2="336.90" y2="211.0" stroke="#4d4d4d" stroke-width="1"/>
<line x1="336.90" y1="289.3" x2="336.90" y2="283.8" stroke="#4d4d4d" stroke-width="1"/>
<line x1="229.5" y1="226.40" x2="235.0" y2="226.40" stroke="#4d4d4d" stroke-width="1"/>
<line x1="372.7" y1="226.40" x2="367.2" y2="226.40" stroke="#4d4d4d" stroke-width="1"/>
<line x1="229.5" y1="247.40" x2="235.0" y2="247.40" stroke="#4d4d4d" stroke-width="1"/>
<line x1="372.7" y1="247.40" x2="367.2" y2="247.40" stroke="#4d4d4d" stroke-width="1"/>
<line x1="229.5" y1="268.40" x2="235.0" y2="268.40" stroke="#4d4d4d" stroke-width="1"/>
<line x1="372.7" y1="268.40" x2="367.2" y2="268.40" stroke="#4d4d4d" stroke-width="1"/>
<rect x="229.5" y="205.5" width="143.2" height="83.8" fill="none" stroke="#4d4d4d" stroke-width="1"/>
<text transform="translate(239.50 221.40) scale(1 1.06)" font-size="14.3" fill="#159bf5" stroke="#159bf5" stroke-width="0.15">ISR</text>
<text transform="translate(367.20 221.40) scale(1 1.06)" font-size="14.3" fill="#ff0000" stroke="#ff0000" stroke-width="0.15" text-anchor="end">C10</text>
</g>
<g>
<line x1="394.6" y1="226.40" x2="537.8" y2="226.40" stroke="#555555" stroke-width="1" stroke-dasharray="3 2.8" stroke-dashoffset="-0.7"/>
<line x1="394.6" y1="247.40" x2="537.8" y2="247.40" stroke="#555555" stroke-width="1" stroke-dasharray="3 2.8" stroke-dashoffset="-0.7"/>
<line x1="394.6" y1="268.40" x2="537.8" y2="268.40" stroke="#555555" stroke-width="1" stroke-dasharray="3 2.8" stroke-dashoffset="-0.7"/>
<path d="M428.9 242.0h0M428.8 252.5h0M428.8 243.5h0M428.9 244.7h0M429.1 246.3h0M429.1 247.8h0M429.0 249.3h0M428.9 251.1h0M429.0 252.4h0M429.7 241.6h0M429.8 252.5h0M429.4 243.9h0M429.6 245.3h0M429.8 246.7h0M429.4 247.7h0M429.7 250.1h0M429.4 240.2h0M429.6 256.2h0M431.0 242.3h0M430.8 252.4h0M431.1 244.1h0M430.8 245.6h0M430.9 247.8h0M431.0 249.6h0M431.0 251.1h0M430.8 256.0h0M431.9 244.7h0M431.8 252.8h0M431.6 247.3h0M431.5 248.5h0M431.5 249.5h0M431.5 251.8h0M431.7 252.7h0M432.9 245.4h0M432.9 251.3h0M432.9 248.0h0M432.9 249.1h0M433.0 251.0h0M433.6 246.0h0M433.6 251.6h0M433.7 248.8h0M433.7 249.7h0M434.0 251.0h0M434.9 245.2h0M434.5 250.4h0M434.7 246.3h0M434.8 248.9h0M435.6 246.4h0M435.3 251.0h0M435.5 248.0h0M435.5 250.1h0M436.5 245.1h0M436.4 251.1h0M436.6 246.7h0M436.3 247.6h0M436.6 249.7h0M436.4 250.6h0M437.4 246.6h0M437.6 253.0h0M437.8 248.5h0M437.5 250.9h0M437.5 252.6h0M438.7 244.8h0M439.1 253.0h0M438.9 246.6h0M438.7 251.3h0M439.3 245.3h0M439.4 253.1h0M439.4 246.9h0M439.3 247.8h0M439.6 249.7h0M439.4 252.5h0M441.1 245.7h0M441.2 253.1h0M440.9 251.2h0M441.5 244.6h0M441.7 252.9h0M441.6 246.3h0M441.6 248.4h0M441.3 250.6h0M441.3 252.8h0M442.5 244.3h0M442.7 251.5h0M442.7 247.1h0M442.8 249.4h0M443.5 245.7h0M443.6 251.1h0M443.8 247.5h0M443.5 249.7h0M444.5 243.7h0M444.8 252.0h0M445.0 247.1h0M444.7 251.9h0M445.7 244.6h0M445.9 251.4h0M445.6 247.8h0M445.6 249.7h0M445.6 250.7h0M446.6 243.2h0M446.6 251.9h0M446.4 245.1h0M446.6 248.7h0M446.6 250.1h0M446.7 251.4h0M447.8 242.9h0M447.7 252.6h0M447.6 243.9h0M447.8 246.0h0M447.6 247.0h0M447.9 248.3h0M447.6 250.5h0M447.7 251.9h0M448.8 242.7h0M448.7 252.7h0M448.6 243.8h0M448.7 246.2h0M448.7 248.6h0M448.4 250.6h0M448.4 252.0h0M448.4 254.2h0M449.8 242.9h0M449.6 252.9h0M449.4 244.2h0M449.8 246.9h0M449.5 248.9h0M449.7 251.6h0M450.7 242.1h0M450.6 254.6h0M450.6 244.0h0M450.6 245.8h0M450.7 250.1h0M450.6 251.3h0M450.4 253.8h0M450.4 240.5h0M451.9 242.4h0M452.1 255.3h0M451.9 244.3h0M451.9 246.7h0M451.8 248.9h0M451.9 251.3h0M452.2 252.1h0M452.3 253.1h0M452.7 242.6h0M452.5 254.9h0M452.8 243.5h0M452.4 245.3h0M452.5 246.3h0M452.5 248.8h0M452.4 250.6h0M452.7 240.9h0M453.6 242.9h0M453.3 255.5h0M453.5 244.0h0M453.7 246.0h0M453.7 249.9h0M453.4 252.1h0M453.3 254.3h0M453.7 240.2h0M454.7 244.3h0M455.0 254.5h0M454.6 245.4h0M454.9 248.2h0M454.9 249.7h0M455.0 250.6h0M455.0 253.3h0M455.9 243.2h0M455.9 254.5h0M455.9 244.6h0M455.7 245.7h0M455.7 248.1h0M456.1 249.9h0M455.9 251.8h0M455.9 253.3h0M456.3 243.4h0M456.4 254.2h0M456.7 245.5h0M456.8 248.1h0M456.7 250.0h0M456.6 251.0h0M456.5 252.6h0M457.8 243.8h0M458.1 253.4h0M458.3 245.7h0M458.3 248.2h0M459.0 244.0h0M458.8 254.7h0M459.0 245.0h0M459.1 246.1h0M459.0 247.3h0M459.1 249.6h0M458.9 252.2h0M458.8 254.3h0M459.3 253.8h0M459.4 250.1h0M459.5 243.6h0M459.6 241.4h0M459.7 251.2h0M459.3 247.6h0M459.7 253.3h0M459.5 242.2h0M459.5 254.0h0M459.8 254.9h0M460.7 240.0h0M460.2 255.2h0M460.3 245.7h0M460.1 240.7h0M460.7 254.0h0M460.7 241.7h0M460.4 243.9h0M460.8 253.7h0M460.7 248.9h0M460.9 249.1h0M460.4 246.9h0M460.3 248.2h0M460.8 246.9h0M461.9 237.9h0M461.6 256.4h0M461.9 244.6h0M461.7 247.6h0M461.5 248.5h0M461.4 243.8h0M461.8 253.6h0M461.5 243.9h0M461.8 251.9h0M461.7 251.6h0M461.1 238.5h0M461.4 249.6h0M461.7 251.1h0M461.2 252.0h0M462.6 237.7h0M462.8 255.7h0M462.7 238.9h0M462.9 251.0h0M462.1 256.1h0M462.8 245.4h0M462.2 245.3h0M462.8 256.3h0M462.5 251.9h0M462.5 253.9h0M462.2 246.0h0M462.4 247.6h0M462.4 250.0h0M462.9 251.5h0M463.1 239.3h0M463.6 245.0h0M463.8 248.4h0M463.8 241.7h0M463.1 245.4h0M463.6 252.0h0M463.3 253.9h0M463.3 251.2h0M463.4 247.7h0M463.5 243.1h0M463.3 242.8h0M463.3 240.1h0M464.2 241.3h0M464.3 255.3h0M464.6 241.1h0M464.3 250.3h0M464.6 255.8h0M464.6 246.8h0M464.7 249.1h0M464.3 247.3h0M464.3 246.9h0M464.1 252.6h0M464.7 255.0h0M464.2 243.6h0M464.9 246.7h0M465.3 241.3h0M465.1 255.3h0M465.6 241.7h0M465.6 241.5h0M465.1 243.8h0M465.7 240.8h0M465.4 253.5h0M465.2 252.0h0M465.3 255.6h0M465.5 246.1h0M465.7 251.3h0M465.4 252.9h0M466.3 240.3h0M466.5 254.7h0M466.4 250.2h0M466.5 240.1h0M466.7 253.6h0M466.3 240.4h0M466.7 251.1h0M466.4 242.9h0M466.2 243.4h0M466.8 253.2h0M466.3 240.1h0M466.7 251.2h0M467.7 239.5h0M467.4 254.1h0M467.4 254.2h0M467.4 248.3h0M467.2 250.6h0M467.5 250.5h0M467.5 252.0h0M467.5 243.8h0M467.3 250.0h0M467.8 248.2h0M467.2 245.1h0M467.2 247.6h0M468.2 239.2h0M468.6 247.7h0M468.4 248.0h0M468.4 239.1h0M468.4 248.9h0M468.4 242.1h0M468.1 246.7h0M468.7 245.4h0M468.1 245.6h0M468.2 240.1h0M468.5 252.2h0M468.4 240.7h0M469.5 239.8h0M469.9 253.8h0M469.7 253.8h0M469.3 244.7h0M469.3 241.0h0M469.4 240.2h0M469.1 243.4h0M469.5 254.3h0M469.9 249.4h0M469.4 244.5h0M469.6 250.3h0M469.2 247.9h0M470.9 240.4h0M470.6 253.8h0M470.4 241.1h0M470.1 253.1h0M470.2 241.2h0M470.5 253.5h0M470.3 244.2h0M470.7 242.9h0M470.3 247.4h0M470.6 249.1h0M470.2 248.4h0M471.9 241.4h0M471.3 253.7h0M471.7 245.3h0M471.5 243.6h0M471.7 249.3h0M471.2 242.6h0M471.3 249.5h0M471.8 243.1h0M471.7 251.8h0M471.6 244.9h0M471.2 251.4h0M472.7 240.6h0M472.5 253.2h0M472.8 245.9h0M472.8 240.6h0M472.4 248.6h0M472.9 245.1h0M472.7 248.2h0M472.8 243.6h0M472.2 244.3h0M472.5 242.9h0M472.2 251.6h0M473.0 238.6h0M473.0 249.6h0M473.1 239.9h0M473.3 242.4h0M473.0 244.0h0M473.1 245.0h0M473.3 245.9h0M473.4 248.4h0M474.4 238.8h0M474.3 250.8h0M474.4 239.6h0M474.5 241.6h0M474.4 246.5h0M474.4 249.0h0M475.3 239.5h0M475.4 251.4h0M475.3 240.4h0M475.3 242.4h0M475.0 244.1h0M475.2 246.0h0M475.4 247.1h0M475.3 248.7h0M475.0 249.5h0M476.5 239.7h0M476.4 252.8h0M476.3 243.1h0M476.2 245.0h0M476.4 246.3h0M476.5 248.0h0M476.4 250.0h0M476.2 251.6h0M477.9 239.3h0M477.8 253.0h0M478.0 241.1h0M477.7 242.9h0M477.6 244.9h0M477.5 247.0h0M477.8 248.9h0M478.0 250.6h0M478.6 236.5h0M478.7 253.4h0M478.3 238.4h0M478.4 239.4h0M478.8 240.2h0M478.6 242.7h0M478.7 245.2h0M478.4 246.4h0M478.6 247.4h0M478.3 248.8h0M478.3 250.3h0M478.7 253.0h0M479.8 235.8h0M479.6 252.4h0M479.3 238.3h0M479.3 239.7h0M479.4 241.2h0M479.7 243.2h0M479.6 245.2h0M479.4 247.5h0M479.7 249.3h0M479.6 250.7h0M479.4 252.0h0M480.2 240.3h0M480.4 250.7h0M480.4 243.1h0M480.4 243.9h0M480.2 246.5h0M480.4 247.8h0M480.4 250.4h0M481.6 241.4h0M481.3 249.6h0M481.3 244.1h0M481.4 245.2h0M481.7 247.2h0M482.5 240.8h0M482.3 249.4h0M482.5 243.0h0M482.1 244.7h0M482.4 245.7h0M482.4 246.9h0M482.3 247.7h0M483.1 240.9h0M483.2 249.4h0M483.4 245.9h0M483.3 247.1h0M484.9 241.8h0M484.5 248.9h0M484.7 244.0h0M484.6 246.6h0M484.6 248.1h0M485.6 241.9h0M485.4 250.6h0M485.6 242.7h0M485.6 244.5h0M485.3 247.2h0M486.5 242.1h0M486.6 251.4h0M486.4 244.0h0M486.3 246.4h0M486.7 247.6h0M486.3 250.4h0M487.2 242.2h0M487.2 251.2h0M487.5 243.5h0M487.5 245.9h0M487.1 248.7h0M487.2 250.7h0M488.3 241.3h0M488.7 252.0h0M488.4 244.1h0M488.6 245.1h0M488.7 247.0h0M488.5 250.3h0M488.4 251.9h0M489.7 240.5h0M489.5 252.5h0M489.9 242.6h0M489.6 243.4h0M489.4 244.5h0M489.5 246.3h0M489.5 247.8h0M489.6 250.4h0M489.8 251.8h0M490.6 240.4h0M490.6 251.5h0M490.5 242.3h0M490.5 244.3h0M490.3 245.9h0M490.4 248.3h0M491.5 241.2h0M491.7 250.4h0M491.6 243.2h0M491.8 245.7h0M491.6 246.9h0M491.6 249.3h0M492.3 241.1h0M492.1 249.7h0M492.3 243.1h0M492.2 246.0h0M492.3 249.7h0M493.2 241.1h0M493.2 251.3h0M493.2 241.9h0M493.3 243.5h0M493.2 244.8h0M493.4 246.4h0M493.3 248.3h0M493.3 249.6h0M494.7 240.8h0M494.7 252.0h0M494.9 242.7h0M494.8 244.1h0M494.9 246.4h0M494.8 247.4h0M494.9 249.9h0M494.8 250.8h0M494.9 252.0h0M495.8 241.5h0M495.4 253.8h0M495.7 243.8h0M495.5 245.3h0M495.6 247.1h0M495.8 248.6h0M495.4 249.7h0M495.8 250.8h0M495.5 252.1h0M495.8 253.7h0M496.6 240.5h0M496.6 254.9h0M496.4 242.8h0M496.2 246.0h0M496.3 248.3h0M496.4 249.5h0M496.4 252.7h0M497.4 239.5h0M497.5 255.5h0M497.5 240.9h0M497.2 243.2h0M497.4 245.5h0M497.3 247.5h0M497.2 248.5h0M497.3 249.7h0M497.6 250.6h0M497.3 252.9h0M498.2 239.3h0M498.4 255.2h0M498.4 244.3h0M498.3 246.7h0M498.5 247.9h0M498.1 248.9h0M498.4 250.0h0M498.3 252.6h0M499.6 239.9h0M499.9 256.4h0M500.0 241.0h0M499.7 243.4h0M499.6 245.0h0M500.0 245.9h0M499.6 248.0h0M499.6 249.5h0M499.5 251.5h0M499.6 253.1h0M499.8 255.4h0M500.3 240.8h0M500.2 256.8h0M500.4 242.2h0M500.2 246.5h0M500.5 247.9h0M500.6 249.5h0M500.4 251.2h0M500.2 253.3h0M500.6 254.4h0M501.2 240.1h0M501.6 256.4h0M501.4 244.9h0M501.2 246.7h0M501.4 248.1h0M501.4 249.7h0M501.3 251.9h0M501.4 253.9h0M501.2 255.2h0M501.4 258.9h0M502.2 241.8h0M502.3 257.3h0M502.2 244.6h0M502.1 245.7h0M502.1 249.9h0M502.4 252.1h0M502.5 253.6h0M502.2 255.7h0M502.4 257.1h0M503.5 242.6h0M503.7 256.7h0M503.5 245.3h0M503.8 246.8h0M503.7 247.9h0M503.7 250.2h0M503.5 252.7h0M503.5 254.4h0M503.5 255.8h0M461.5 236.5h0M462.0 238.5h0M468.5 237.7h0M468.5 239.7h0M459.6 221.8h0M453.7 261.5h0M430.5 254.5h0M430.0 240.0h0M464.0 262.0h0M466.0 257.0h0M463.0 265.5h0M462.0 263.0h0M461.5 260.0h0M492.6 236.5h0M497.0 235.0h0M501.5 237.8h0M476.5 263.0h0M479.0 263.5h0M478.0 263.0h0M484.0 256.0h0M484.5 258.0h0M491.5 253.5h0M492.5 256.5h0M492.0 260.0h0M490.5 262.0h0M497.5 258.0h0M501.0 259.5h0M499.5 261.0h0" fill="none" stroke="#58d80c" stroke-width="2.6" stroke-linecap="round"/>
<rect x="459.3" y="205.5" width="14.10" height="83.8" fill="#b3b3b3" fill-opacity="0.4" stroke="#a0a0a0" stroke-opacity="0.5" stroke-width="1.2"/>
<line x1="430.40" y1="205.5" x2="430.40" y2="211.0" stroke="#4d4d4d" stroke-width="1"/>
<line x1="430.40" y1="289.3" x2="430.40" y2="283.8" stroke="#4d4d4d" stroke-width="1"/>
<line x1="466.20" y1="205.5" x2="466.20" y2="211.0" stroke="#4d4d4d" stroke-width="1"/>
<line x1="466.20" y1="289.3" x2="466.20" y2="283.8" stroke="#4d4d4d" stroke-width="1"/>
<line x1="502.00" y1="205.5" x2="502.00" y2="211.0" stroke="#4d4d4d" stroke-width="1"/>
<line x1="502.00" y1="289.3" x2="502.00" y2="283.8" stroke="#4d4d4d" stroke-width="1"/>
<line x1="394.6" y1="226.40" x2="400.1" y2="226.40" stroke="#4d4d4d" stroke-width="1"/>
<line x1="537.8" y1="226.40" x2="532.3" y2="226.40" stroke="#4d4d4d" stroke-width="1"/>
<line x1="394.6" y1="247.40" x2="400.1" y2="247.40" stroke="#4d4d4d" stroke-width="1"/>
<line x1="537.8" y1="247.40" x2="532.3" y2="247.40" stroke="#4d4d4d" stroke-width="1"/>
<line x1="394.6" y1="268.40" x2="400.1" y2="268.40" stroke="#4d4d4d" stroke-width="1"/>
<line x1="537.8" y1="268.40" x2="532.3" y2="268.40" stroke="#4d4d4d" stroke-width="1"/>
<rect x="394.6" y="205.5" width="143.2" height="83.8" fill="none" stroke="#4d4d4d" stroke-width="1"/>
<text transform="translate(404.60 221.40) scale(1 1.06)" font-size="14.3" fill="#58d80c" stroke="#58d80c" stroke-width="0.15">ISU</text>
<text transform="translate(532.30 221.40) scale(1 1.06)" font-size="14.3" fill="#ff0000" stroke="#ff0000" stroke-width="0.15" text-anchor="end">C10</text>
</g>
<g>
<line x1="64.5" y1="322.90" x2="207.7" y2="322.90" stroke="#555555" stroke-width="1" stroke-dasharray="3 2.8" stroke-dashoffset="-0.7"/>
<line x1="64.5" y1="343.90" x2="207.7" y2="343.90" stroke="#555555" stroke-width="1" stroke-dasharray="3 2.8" stroke-dashoffset="-0.7"/>
<line x1="64.5" y1="364.90" x2="207.7" y2="364.90" stroke="#555555" stroke-width="1" stroke-dasharray="3 2.8" stroke-dashoffset="-0.7"/>
<path d="M108.6 340.2h0M108.3 345.9h0M108.6 342.6h0M108.3 345.8h0M109.7 340.4h0M109.8 346.5h0M109.6 341.4h0M109.6 343.2h0M110.0 345.3h0M110.5 340.7h0M110.3 348.5h0M110.3 341.9h0M110.1 346.1h0M110.2 348.0h0M111.3 339.1h0M111.3 348.4h0M111.4 340.8h0M111.5 342.1h0M111.3 343.1h0M111.5 344.9h0M111.2 347.1h0M112.4 339.2h0M112.4 346.9h0M112.3 341.4h0M112.5 343.1h0M112.4 345.5h0M113.6 338.5h0M113.6 347.8h0M113.6 341.2h0M113.7 343.6h0M113.5 344.8h0M113.5 347.6h0M113.3 350.1h0M114.8 339.5h0M114.4 347.1h0M114.3 341.1h0M114.3 342.2h0M114.5 344.3h0M114.7 346.7h0M114.7 337.1h0M115.4 340.4h0M115.4 346.8h0M115.4 343.1h0M115.3 345.7h0M116.5 341.3h0M116.7 348.0h0M116.8 342.8h0M116.8 345.2h0M116.6 346.3h0M117.4 341.1h0M117.2 347.8h0M117.6 343.2h0M117.5 344.7h0M117.2 346.1h0M118.5 341.0h0M118.7 347.8h0M118.8 343.3h0M118.4 344.7h0M118.9 346.7h0M119.8 340.0h0M119.7 349.6h0M119.8 341.2h0M119.6 342.8h0M119.5 344.6h0M119.5 346.7h0M119.8 348.7h0M120.3 340.3h0M120.2 347.8h0M120.4 343.0h0M120.1 345.6h0M121.6 340.0h0M122.0 348.3h0M121.8 342.4h0M121.9 345.6h0M122.0 346.6h0M122.7 339.7h0M123.0 348.3h0M122.6 341.9h0M122.8 343.2h0M122.9 345.7h0M123.2 339.9h0M123.5 349.0h0M123.3 342.1h0M123.5 344.7h0M123.2 346.3h0M123.2 347.2h0M123.5 348.4h0M124.7 340.1h0M124.7 348.9h0M124.3 341.1h0M124.3 342.1h0M124.7 344.2h0M124.4 346.7h0M124.6 348.2h0M126.2 349.5h0M126.2 348.8h0M126.3 347.9h0M125.8 340.5h0M126.2 340.0h0M126.4 343.8h0M126.8 349.5h0M126.7 349.6h0M127.0 341.9h0M127.0 341.8h0M127.4 339.9h0M127.2 348.0h0M128.1 337.9h0M128.3 347.4h0M127.8 340.5h0M127.9 339.0h0M128.2 349.0h0M128.3 339.8h0M127.8 348.9h0M129.1 338.2h0M128.8 345.4h0M129.4 345.5h0M128.8 340.9h0M129.2 341.4h0M128.7 349.2h0M128.8 339.3h0M130.2 337.1h0M130.3 349.0h0M129.8 346.4h0M130.0 340.9h0M129.7 337.5h0M130.2 346.3h0M129.9 337.6h0M129.8 342.1h0M130.7 337.5h0M130.6 345.1h0M131.2 344.7h0M131.3 346.6h0M130.7 345.5h0M131.0 348.7h0M132.2 338.1h0M132.0 348.9h0M132.4 339.1h0M132.3 337.8h0M132.0 340.6h0M132.1 344.3h0M132.1 341.7h0M133.3 338.6h0M132.8 348.8h0M132.7 345.7h0M132.9 340.0h0M132.8 343.1h0M133.0 340.6h0M133.2 343.4h0M133.7 345.6h0M134.3 346.7h0M134.3 342.3h0M133.6 342.7h0M134.3 339.5h0M135.2 338.7h0M135.0 348.4h0M134.8 342.8h0M135.3 338.2h0M135.2 348.2h0M135.2 346.4h0M134.9 342.1h0M136.4 338.3h0M135.6 345.9h0M135.6 345.1h0M136.1 340.7h0M136.1 348.5h0M135.8 346.3h0M136.7 347.7h0M137.2 340.6h0M137.2 345.1h0M136.8 344.4h0M137.2 343.6h0M136.9 337.6h0M138.4 337.6h0M137.8 348.7h0M138.3 346.2h0M138.4 346.9h0M138.0 337.4h0M137.9 348.2h0M138.3 340.5h0M139.2 347.7h0M138.7 347.7h0M138.9 339.5h0M138.9 343.9h0M138.7 340.5h0M139.4 338.2h0M139.3 340.8h0M139.6 338.1h0M140.3 349.0h0M140.3 346.3h0M139.8 346.2h0M140.0 347.9h0M139.7 341.6h0M140.1 340.7h0M140.2 338.2h0M140.6 338.8h0M140.6 338.6h0M140.7 348.8h0M140.8 343.7h0M140.6 341.6h0M141.1 344.6h0M141.7 348.2h0M141.7 348.1h0M141.6 347.7h0M141.8 348.3h0M141.7 348.9h0M142.3 346.2h0M143.0 341.0h0M142.9 347.6h0M142.8 339.5h0M142.7 347.4h0M143.1 338.1h0M144.1 345.7h0M144.4 339.2h0M144.1 339.8h0M144.2 348.0h0M144.3 347.2h0M144.7 348.4h0M145.3 346.1h0M145.3 338.2h0M144.7 339.6h0M145.3 339.1h0M144.8 348.1h0M145.7 347.9h0M145.7 348.0h0M145.7 344.7h0M145.9 338.4h0M146.0 344.9h0M145.8 342.1h0M146.5 340.3h0M146.6 348.9h0M146.9 342.8h0M146.9 336.8h0M147.8 339.7h0M147.8 349.6h0M147.7 342.4h0M147.8 343.9h0M147.6 345.2h0M147.6 347.0h0M147.5 349.4h0M148.8 339.9h0M148.8 349.6h0M148.8 341.0h0M148.5 342.6h0M148.6 344.9h0M148.7 347.1h0M148.6 349.5h0M149.5 339.6h0M149.5 348.1h0M149.6 342.0h0M149.5 344.7h0M149.4 347.1h0M149.5 336.6h0M150.4 338.0h0M150.3 347.4h0M150.3 340.7h0M150.5 343.3h0M150.7 344.7h0M150.4 345.9h0M150.5 346.9h0M151.4 337.7h0M151.7 347.8h0M151.7 338.6h0M151.8 341.4h0M151.5 343.8h0M151.6 345.9h0M151.4 346.9h0M152.6 336.9h0M152.3 347.4h0M152.5 338.8h0M152.1 340.0h0M152.5 342.4h0M152.1 345.6h0M153.3 338.1h0M153.4 348.1h0M153.6 340.5h0M153.2 341.6h0M153.4 343.3h0M153.6 345.2h0M153.6 346.2h0M153.2 348.0h0M153.4 350.9h0M155.0 339.9h0M154.6 347.4h0M154.8 340.8h0M154.5 341.8h0M154.8 342.9h0M154.6 343.8h0M155.7 339.1h0M155.7 348.3h0M155.9 340.8h0M155.5 342.8h0M155.7 343.7h0M155.9 344.9h0M155.8 346.9h0M155.7 348.0h0M156.4 340.0h0M156.7 348.0h0M156.5 342.2h0M156.6 344.6h0M156.6 347.1h0M157.5 339.7h0M157.3 348.4h0M157.2 341.4h0M158.4 339.1h0M158.1 348.4h0M158.1 341.3h0M158.1 342.8h0M158.5 344.3h0M158.4 346.7h0M159.4 339.4h0M159.2 348.0h0M159.0 343.4h0M159.0 344.8h0M159.2 347.3h0M160.6 339.8h0M160.3 348.0h0M160.5 341.0h0M160.3 342.4h0M160.6 344.5h0M160.4 345.3h0M160.3 347.9h0M161.2 338.6h0M161.2 348.4h0M161.4 339.5h0M161.4 342.0h0M161.1 343.9h0M161.1 346.3h0M162.6 340.2h0M162.3 349.2h0M162.5 341.2h0M162.2 342.9h0M162.6 345.1h0M162.4 347.3h0M162.6 348.5h0M163.5 339.2h0M163.9 349.9h0M163.8 340.1h0M163.7 341.9h0M163.6 344.7h0M163.9 347.2h0M163.7 348.6h0M139.0 335.6h0M131.0 336.1h0M111.6 335.2h0M111.3 350.6h0M137.3 324.2h0M137.5 332.3h0M128.0 351.5h0M134.5 354.5h0M137.0 350.5h0M140.5 352.0h0M131.0 351.5h0M162.5 329.5h0M162.5 331.5h0M157.7 356.7h0M161.8 356.7h0M157.5 350.7h0" fill="none" stroke="#ff6a1c" stroke-width="2.6" stroke-linecap="round"/>
<rect x="125.4" y="302.0" width="21.10" height="83.8" fill="#b3b3b3" fill-opacity="0.4" stroke="#a0a0a0" stroke-opacity="0.5" stroke-width="1.2"/>
<line x1="100.30" y1="302.0" x2="100.30" y2="307.5" stroke="#4d4d4d" stroke-width="1"/>
<line x1="100.30" y1="385.8" x2="100.30" y2="380.3" stroke="#4d4d4d" stroke-width="1"/>
<line x1="136.10" y1="302.0" x2="136.10" y2="307.5" stroke="#4d4d4d" stroke-width="1"/>
<line x1="136.10" y1="385.8" x2="136.10" y2="380.3" stroke="#4d4d4d" stroke-width="1"/>
<line x1="171.90" y1="302.0" x2="171.90" y2="307.5" stroke="#4d4d4d" stroke-width="1"/>
<line x1="171.90" y1="385.8" x2="171.90" y2="380.3" stroke="#4d4d4d" stroke-width="1"/>
<line x1="64.5" y1="322.90" x2="70.0" y2="322.90" stroke="#4d4d4d" stroke-width="1"/>
<line x1="207.7" y1="322.90" x2="202.2" y2="322.90" stroke="#4d4d4d" stroke-width="1"/>
<line x1="64.5" y1="343.90" x2="70.0" y2="343.90" stroke="#4d4d4d" stroke-width="1"/>
<line x1="207.7" y1="343.90" x2="202.2" y2="343.90" stroke="#4d4d4d" stroke-width="1"/>
<line x1="64.5" y1="364.90" x2="70.0" y2="364.90" stroke="#4d4d4d" stroke-width="1"/>
<line x1="207.7" y1="364.90" x2="202.2" y2="364.90" stroke="#4d4d4d" stroke-width="1"/>
<rect x="64.5" y="302.0" width="143.2" height="83.8" fill="none" stroke="#4d4d4d" stroke-width="1"/>
<text transform="translate(74.50 317.90) scale(1 1.06)" font-size="14.3" fill="#ff6a1c" stroke="#ff6a1c" stroke-width="0.15">ISC</text>
<text transform="translate(202.20 317.90) scale(1 1.06)" font-size="14.3" fill="#ff0000" stroke="#ff0000" stroke-width="0.15" text-anchor="end">C11</text>
</g>
<g>
<line x1="229.5" y1="322.90" x2="372.7" y2="322.90" stroke="#555555" stroke-width="1" stroke-dasharray="3 2.8" stroke-dashoffset="-0.7"/>
<line x1="229.5" y1="343.90" x2="372.7" y2="343.90" stroke="#555555" stroke-width="1" stroke-dasharray="3 2.8" stroke-dashoffset="-0.7"/>
<line x1="229.5" y1="364.90" x2="372.7" y2="364.90" stroke="#555555" stroke-width="1" stroke-dasharray="3 2.8" stroke-dashoffset="-0.7"/>
<path d="M273.7 340.8h0M273.6 346.5h0M273.6 343.5h0M273.5 344.5h0M273.8 346.3h0M273.7 337.8h0M275.0 339.4h0M275.0 347.6h0M274.6 340.3h0M275.0 341.8h0M274.9 343.5h0M274.7 345.3h0M274.6 346.9h0M275.9 338.1h0M276.3 347.5h0M275.9 339.6h0M276.1 341.7h0M276.1 342.8h0M275.9 344.3h0M276.2 346.0h0M276.2 347.5h0M277.2 337.5h0M276.9 348.0h0M277.4 338.3h0M277.2 343.2h0M277.1 344.1h0M277.2 346.0h0M277.4 336.2h0M278.0 340.5h0M278.2 347.6h0M277.9 342.1h0M278.0 343.3h0M278.0 345.8h0M278.0 349.2h0M279.0 340.9h0M278.9 345.0h0M279.8 340.9h0M280.2 344.8h0M279.7 342.6h0M280.1 343.5h0M280.7 340.8h0M280.9 344.3h0M280.8 343.5h0M281.7 340.9h0M281.5 344.8h0M281.8 342.9h0M281.8 343.9h0M282.6 339.7h0M282.5 343.4h0M282.7 342.3h0M282.5 343.2h0M284.3 339.5h0M284.2 344.0h0M284.2 341.6h0M284.0 343.4h0M284.0 347.2h0M285.0 338.6h0M285.2 343.9h0M285.2 340.3h0M285.2 342.8h0M286.3 339.9h0M286.1 344.0h0M286.2 342.1h0M286.2 343.9h0M286.7 339.4h0M286.6 343.4h0M286.7 341.0h0M286.7 343.0h0M287.9 339.5h0M288.1 344.0h0M287.7 342.0h0M288.2 342.9h0M288.7 338.6h0M288.8 345.1h0M288.9 340.2h0M288.5 342.8h0M288.5 344.4h0M290.0 337.8h0M289.9 345.0h0M289.8 338.8h0M290.0 340.7h0M289.8 342.2h0M289.7 343.9h0M290.8 339.2h0M290.8 346.7h0M290.8 340.9h0M291.0 343.5h0M290.5 346.3h0M291.0 349.7h0M290.6 349.5h0M290.7 347.6h0M290.7 349.3h0M290.9 345.5h0M290.8 338.9h0M291.0 340.8h0M291.7 339.5h0M291.7 349.5h0M291.7 341.3h0M292.3 340.8h0M291.8 349.1h0M291.8 349.1h0M291.7 345.1h0M292.9 339.8h0M293.2 343.9h0M293.2 341.0h0M292.8 342.6h0M293.3 340.0h0M292.7 343.6h0M293.7 339.4h0M294.0 349.2h0M294.0 343.9h0M293.9 349.1h0M294.2 343.2h0M294.0 340.9h0M294.3 340.0h0M294.7 349.5h0M294.6 338.8h0M294.8 340.5h0M294.7 340.3h0M294.7 339.1h0M295.4 350.1h0M295.6 340.0h0M295.8 347.3h0M295.6 347.0h0M296.3 339.1h0M295.9 347.9h0M296.0 347.1h0M297.3 337.9h0M297.0 350.4h0M297.1 348.7h0M296.6 346.6h0M297.0 340.5h0M296.7 341.8h0M297.0 342.7h0M298.3 337.3h0M298.0 338.7h0M298.2 350.1h0M297.8 347.0h0M298.1 341.3h0M297.7 338.3h0M298.4 338.5h0M299.0 351.1h0M299.1 343.4h0M298.7 338.0h0M299.0 349.8h0M299.2 342.9h0M298.9 343.0h0M298.7 348.7h0M300.0 352.1h0M299.9 341.5h0M300.3 342.1h0M300.0 342.4h0M299.8 350.4h0M300.4 349.1h0M299.8 351.4h0M300.9 344.5h0M301.4 342.6h0M300.7 343.9h0M301.3 344.4h0M301.4 337.8h0M301.3 350.2h0M301.7 350.1h0M302.2 350.0h0M301.7 337.4h0M302.1 343.9h0M301.9 338.2h0M301.9 344.2h0M302.2 336.6h0M302.2 335.3h0M303.1 349.6h0M303.2 340.2h0M302.9 346.6h0M303.2 346.5h0M303.2 349.1h0M302.6 338.9h0M303.0 349.0h0M303.0 339.1h0M303.7 335.5h0M303.8 350.6h0M304.1 337.6h0M304.1 336.4h0M304.2 350.6h0M303.8 342.4h0M304.1 349.0h0M304.1 349.8h0M303.7 345.2h0M305.1 335.9h0M305.3 344.0h0M304.7 343.7h0M304.8 344.7h0M305.1 347.0h0M305.2 349.0h0M304.8 349.4h0M304.9 338.1h0M306.1 338.2h0M306.2 338.4h0M306.1 344.4h0M306.2 346.9h0M305.9 348.3h0M306.2 346.4h0M305.7 342.2h0M306.8 338.2h0M307.2 338.0h0M307.0 345.4h0M306.9 337.6h0M307.3 348.0h0M307.3 342.4h0M306.8 338.0h0M308.0 338.8h0M307.8 340.3h0M307.6 342.4h0M308.3 340.9h0M308.3 349.5h0M307.6 349.3h0M308.9 337.8h0M308.8 348.7h0M309.1 340.1h0M308.6 341.3h0M308.6 342.3h0M309.0 348.6h0M309.3 349.6h0M308.8 342.5h0M310.4 348.9h0M309.7 343.1h0M309.9 340.1h0M309.7 343.4h0M309.9 340.9h0M310.1 347.9h0M310.6 337.9h0M310.9 347.9h0M311.2 337.3h0M310.9 338.1h0M311.1 341.2h0M310.9 348.2h0M310.7 341.9h0M311.8 338.7h0M311.6 348.6h0M311.7 340.1h0M311.6 342.8h0M311.6 343.6h0M311.8 345.8h0M311.5 348.3h0M312.5 339.0h0M312.7 348.0h0M312.7 340.3h0M312.5 342.3h0M312.6 344.5h0M312.8 345.5h0M312.4 346.3h0M312.8 336.9h0M312.6 350.7h0M313.3 338.5h0M313.1 348.1h0M313.1 339.5h0M313.1 344.0h0M313.1 346.6h0M314.3 339.2h0M314.6 349.2h0M314.5 341.1h0M314.7 343.8h0M314.5 345.5h0M314.4 347.5h0M315.4 338.4h0M315.0 349.3h0M315.1 339.8h0M315.1 342.9h0M315.3 345.5h0M315.4 346.8h0M315.3 348.5h0M316.5 337.4h0M316.4 349.4h0M316.5 339.3h0M316.2 341.1h0M316.3 343.6h0M316.3 345.3h0M316.5 346.5h0M316.3 347.8h0M317.3 335.3h0M317.5 348.0h0M317.6 336.4h0M317.5 338.1h0M317.5 340.6h0M317.6 343.5h0M317.4 344.4h0M317.5 345.5h0M317.2 346.4h0M318.4 337.5h0M318.6 347.7h0M318.7 340.1h0M318.5 343.1h0M318.6 345.4h0M318.4 346.4h0M319.6 338.2h0M319.7 347.9h0M319.4 340.5h0M319.6 342.1h0M319.7 343.3h0M319.7 345.5h0M319.7 347.0h0M320.8 339.4h0M320.4 347.5h0M320.7 341.1h0M320.4 343.2h0M320.5 345.7h0M321.3 339.2h0M321.4 348.0h0M321.3 341.0h0M321.3 343.7h0M321.4 345.9h0M322.5 339.1h0M322.5 348.5h0M322.6 340.4h0M322.7 342.8h0M322.6 343.8h0M322.8 345.5h0M322.4 346.6h0M323.7 339.0h0M323.7 348.9h0M323.3 340.2h0M323.3 345.4h0M323.4 346.4h0M323.6 347.6h0M323.4 348.7h0M324.2 339.7h0M324.5 348.1h0M324.3 341.6h0M324.1 344.4h0M324.5 346.4h0M324.2 350.3h0M325.6 337.4h0M325.6 349.6h0M325.5 340.1h0M325.6 342.2h0M325.5 344.0h0M325.5 345.0h0M325.6 346.5h0M325.6 348.3h0M326.5 334.4h0M326.6 350.2h0M326.9 336.5h0M326.9 338.7h0M326.7 341.1h0M326.6 343.5h0M326.8 346.3h0M326.6 347.4h0M326.9 348.2h0M327.4 334.8h0M327.3 350.2h0M327.4 336.5h0M327.2 338.9h0M327.3 341.1h0M327.3 343.1h0M327.3 345.4h0M327.4 348.1h0M327.2 349.9h0M328.3 337.2h0M328.4 347.6h0M328.2 338.1h0M328.5 339.1h0M328.1 340.9h0M328.4 342.1h0M328.4 344.6h0M328.0 345.5h0M328.5 347.1h0M328.1 334.9h0M304.4 333.6h0M304.4 335.6h0M302.0 334.6h0M278.0 353.5h0M279.4 347.7h0M281.5 349.0h0M283.6 349.8h0M285.7 350.6h0M287.8 351.4h0M289.8 352.5h0M276.0 351.0h0M297.5 326.0h0M297.5 328.5h0M297.5 332.5h0M299.8 353.5h0M302.5 354.0h0M323.0 356.5h0M327.0 356.5h0" fill="none" stroke="#159bf5" stroke-width="2.6" stroke-linecap="round"/>
<rect x="290.9" y="302.0" width="20.60" height="83.8" fill="#b3b3b3" fill-opacity="0.4" stroke="#a0a0a0" stroke-opacity="0.5" stroke-width="1.2"/>
<line x1="265.30" y1="302.0" x2="265.30" y2="307.5" stroke="#4d4d4d" stroke-width="1"/>
<line x1="265.30" y1="385.8" x2="265.30" y2="380.3" stroke="#4d4d4d" stroke-width="1"/>
<line x1="301.10" y1="302.0" x2="301.10" y2="307.5" stroke="#4d4d4d" stroke-width="1"/>
<line x1="301.10" y1="385.8" x2="301.10" y2="380.3" stroke="#4d4d4d" stroke-width="1"/>
<line x1="336.90" y1="302.0" x2="336.90" y2="307.5" stroke="#4d4d4d" stroke-width="1"/>
<line x1="336.90" y1="385.8" x2="336.90" y2="380.3" stroke="#4d4d4d" stroke-width="1"/>
<line x1="229.5" y1="322.90" x2="235.0" y2="322.90" stroke="#4d4d4d" stroke-width="1"/>
<line x1="372.7" y1="322.90" x2="367.2" y2="322.90" stroke="#4d4d4d" stroke-width="1"/>
<line x1="229.5" y1="343.90" x2="235.0" y2="343.90" stroke="#4d4d4d" stroke-width="1"/>
<line x1="372.7" y1="343.90" x2="367.2" y2="343.90" stroke="#4d4d4d" stroke-width="1"/>
<line x1="229.5" y1="364.90" x2="235.0" y2="364.90" stroke="#4d4d4d" stroke-width="1"/>
<line x1="372.7" y1="364.90" x2="367.2" y2="364.90" stroke="#4d4d4d" stroke-width="1"/>
<rect x="229.5" y="302.0" width="143.2" height="83.8" fill="none" stroke="#4d4d4d" stroke-width="1"/>
<text transform="translate(239.50 317.90) scale(1 1.06)" font-size="14.3" fill="#159bf5" stroke="#159bf5" stroke-width="0.15">ISR</text>
<text transform="translate(367.20 317.90) scale(1 1.06)" font-size="14.3" fill="#ff0000" stroke="#ff0000" stroke-width="0.15" text-anchor="end">C11</text>
</g>
<g>
<line x1="394.6" y1="322.90" x2="537.8" y2="322.90" stroke="#555555" stroke-width="1" stroke-dasharray="3 2.8" stroke-dashoffset="-0.7"/>
<line x1="394.6" y1="343.90" x2="537.8" y2="343.90" stroke="#555555" stroke-width="1" stroke-dasharray="3 2.8" stroke-dashoffset="-0.7"/>
<line x1="394.6" y1="364.90" x2="537.8" y2="364.90" stroke="#555555" stroke-width="1" stroke-dasharray="3 2.8" stroke-dashoffset="-0.7"/>
<path d="M439.1 339.8h0M439.0 345.3h0M438.9 341.6h0M439.2 342.7h0M439.3 344.0h0M439.6 339.5h0M439.6 345.5h0M439.9 340.4h0M439.9 343.1h0M439.9 344.6h0M440.6 338.7h0M440.7 346.3h0M441.0 342.3h0M441.0 344.7h0M441.1 345.5h0M441.5 337.1h0M441.5 345.8h0M441.6 338.8h0M441.6 340.7h0M441.5 344.6h0M442.8 338.7h0M442.6 345.0h0M442.9 340.7h0M442.8 341.8h0M442.5 344.0h0M443.8 340.6h0M444.0 344.5h0M444.9 341.2h0M444.5 345.9h0M444.9 343.8h0M445.9 341.3h0M446.1 344.6h0M446.8 340.8h0M446.8 346.2h0M447.1 343.2h0M447.1 345.6h0M447.9 340.1h0M447.5 345.8h0M447.5 341.4h0M447.5 342.5h0M447.6 345.3h0M449.0 339.5h0M448.8 346.4h0M448.8 341.7h0M449.1 344.0h0M448.8 345.9h0M450.0 339.6h0M450.2 346.7h0M450.1 340.9h0M450.4 342.5h0M450.3 345.1h0M450.1 346.1h0M450.9 339.6h0M450.6 346.2h0M450.9 342.3h0M450.9 345.1h0M451.5 340.0h0M451.5 346.6h0M451.8 341.2h0M451.8 344.5h0M453.0 339.2h0M453.0 346.9h0M453.3 341.2h0M453.1 343.8h0M453.8 338.5h0M453.6 346.3h0M453.6 340.7h0M453.5 342.9h0M453.7 345.6h0M455.0 338.9h0M454.7 347.4h0M454.8 339.8h0M454.8 341.5h0M455.0 344.0h0M454.9 345.3h0M454.8 346.9h0M456.2 338.2h0M456.2 347.9h0M456.0 340.7h0M456.1 342.0h0M456.0 343.4h0M456.2 345.1h0M456.2 346.4h0M456.4 347.8h0M456.0 335.7h0M456.7 346.9h0M456.3 347.6h0M456.3 340.2h0M456.1 340.9h0M456.3 338.7h0M457.3 338.0h0M457.7 347.3h0M457.3 347.3h0M457.2 341.6h0M457.6 338.0h0M457.6 342.8h0M457.7 346.9h0M458.5 337.4h0M458.5 338.5h0M458.4 342.9h0M458.5 345.7h0M458.7 346.0h0M458.1 347.6h0M458.2 337.9h0M459.4 337.4h0M459.7 348.6h0M459.1 340.2h0M459.2 347.0h0M459.7 341.9h0M459.7 345.4h0M459.4 341.3h0M459.3 346.8h0M460.7 337.2h0M460.2 348.8h0M460.1 342.9h0M460.2 344.1h0M460.3 342.9h0M460.9 349.0h0M460.5 347.6h0M461.8 348.1h0M461.7 337.9h0M461.2 343.0h0M461.7 344.0h0M461.1 348.5h0M461.4 349.1h0M462.2 338.5h0M462.5 350.2h0M462.6 339.9h0M462.2 341.8h0M462.7 339.9h0M462.3 345.8h0M462.5 343.8h0M462.6 346.2h0M463.8 338.1h0M463.7 349.6h0M463.6 344.3h0M463.4 347.2h0M463.5 345.0h0M463.5 345.4h0M463.6 338.9h0M463.2 346.7h0M464.5 349.5h0M464.6 348.6h0M464.4 341.1h0M464.5 343.3h0M464.4 346.0h0M464.5 339.8h0M465.8 338.2h0M465.2 346.4h0M465.2 343.1h0M465.6 342.0h0M465.7 345.0h0M465.4 337.7h0M466.3 348.0h0M466.5 347.9h0M466.2 346.8h0M466.8 337.3h0M466.5 343.1h0M466.6 341.9h0M467.7 344.4h0M467.5 345.4h0M467.6 346.5h0M467.7 339.4h0M467.4 347.5h0M467.2 345.6h0M468.3 336.4h0M468.9 349.1h0M468.8 339.8h0M468.5 348.6h0M468.9 338.8h0M468.2 342.3h0M468.2 339.5h0M468.4 340.1h0M469.5 335.7h0M469.5 335.5h0M469.1 341.9h0M469.3 336.2h0M469.6 346.3h0M469.7 340.9h0M469.4 349.1h0M470.5 337.4h0M470.4 348.8h0M470.8 349.0h0M470.2 343.9h0M470.4 344.4h0M470.7 341.3h0M470.8 347.0h0M470.2 341.9h0M471.6 337.4h0M471.3 346.6h0M471.3 349.2h0M471.8 341.6h0M471.9 342.1h0M471.1 342.5h0M472.5 338.5h0M472.1 339.8h0M472.8 341.9h0M472.7 341.4h0M472.8 340.7h0M472.7 348.1h0M473.1 340.5h0M473.8 341.5h0M473.4 340.6h0M473.4 344.8h0M473.2 348.8h0M474.2 348.3h0M474.4 344.4h0M474.4 346.2h0M474.6 346.3h0M474.6 346.2h0M474.5 338.6h0M475.7 338.4h0M475.4 347.5h0M475.8 342.7h0M475.1 342.3h0M475.6 341.6h0M475.2 338.5h0M475.1 339.6h0M476.7 347.7h0M476.2 343.0h0M476.5 341.6h0M476.7 344.9h0M476.8 340.5h0M476.2 339.5h0M476.6 339.4h0M476.7 347.5h0M476.6 341.9h0M476.3 343.9h0M476.4 345.9h0M477.8 339.6h0M477.8 347.9h0M477.7 341.9h0M477.6 344.7h0M477.7 347.1h0M478.4 339.9h0M478.6 347.1h0M478.7 341.5h0M478.3 343.8h0M478.5 346.4h0M479.3 339.5h0M479.6 347.4h0M479.6 344.8h0M479.3 346.2h0M480.5 339.1h0M480.6 348.9h0M480.7 341.0h0M480.3 342.4h0M480.3 344.3h0M480.5 345.7h0M480.4 348.2h0M481.2 338.5h0M481.5 349.1h0M481.5 340.7h0M481.5 342.7h0M481.6 345.0h0M481.6 346.4h0M481.3 348.0h0M482.7 337.1h0M482.7 350.4h0M482.7 340.5h0M482.4 343.1h0M482.4 344.8h0M482.4 346.6h0M482.7 348.6h0M483.6 337.5h0M483.8 349.0h0M483.3 338.8h0M483.4 342.0h0M483.5 343.4h0M483.3 344.2h0M483.5 346.5h0M483.3 349.0h0M484.6 338.8h0M484.3 348.6h0M484.4 341.4h0M484.3 342.4h0M484.4 344.8h0M484.4 346.1h0M485.2 339.1h0M485.2 346.7h0M485.2 340.4h0M485.4 343.1h0M485.5 345.9h0M486.5 338.9h0M486.6 347.7h0M486.3 340.4h0M486.4 341.9h0M486.6 346.9h0M487.7 337.9h0M487.6 347.9h0M487.6 340.6h0M487.5 343.2h0M487.6 346.0h0M487.4 335.2h0M488.4 338.0h0M488.4 348.5h0M488.0 340.8h0M488.2 343.6h0M488.1 346.3h0M489.2 338.1h0M489.6 348.9h0M489.4 340.4h0M489.2 341.4h0M490.5 337.9h0M490.6 349.8h0M490.8 339.4h0M490.6 342.2h0M490.6 343.2h0M490.7 345.3h0M490.7 349.6h0M491.8 337.6h0M491.9 350.6h0M491.5 339.2h0M491.5 343.9h0M491.6 344.9h0M491.5 347.9h0M491.5 350.5h0M492.4 337.8h0M492.4 349.8h0M492.2 338.9h0M492.1 340.7h0M492.3 344.0h0M492.5 346.6h0M492.5 348.2h0M493.9 337.6h0M493.5 346.9h0M494.0 340.1h0M493.9 342.7h0M493.5 345.1h0M458.5 335.6h0M469.7 334.6h0M449.5 350.5h0M450.0 352.5h0M452.0 351.5h0M469.7 327.3h0M469.7 329.8h0M469.7 332.3h0M461.5 350.5h0M463.0 352.5h0M470.5 351.5h0M458.0 350.0h0M488.0 356.5h0M491.5 354.0h0M483.6 352.5h0" fill="none" stroke="#58d80c" stroke-width="2.6" stroke-linecap="round"/>
<rect x="456.2" y="302.0" width="20.30" height="83.8" fill="#b3b3b3" fill-opacity="0.4" stroke="#a0a0a0" stroke-opacity="0.5" stroke-width="1.2"/>
<line x1="430.40" y1="302.0" x2="430.40" y2="307.5" stroke="#4d4d4d" stroke-width="1"/>
<line x1="430.40" y1="385.8" x2="430.40" y2="380.3" stroke="#4d4d4d" stroke-width="1"/>
<line x1="466.20" y1="302.0" x2="466.20" y2="307.5" stroke="#4d4d4d" stroke-width="1"/>
<line x1="466.20" y1="385.8" x2="466.20" y2="380.3" stroke="#4d4d4d" stroke-width="1"/>
<line x1="502.00" y1="302.0" x2="502.00" y2="307.5" stroke="#4d4d4d" stroke-width="1"/>
<line x1="502.00" y1="385.8" x2="502.00" y2="380.3" stroke="#4d4d4d" stroke-width="1"/>
<line x1="394.6" y1="322.90" x2="400.1" y2="322.90" stroke="#4d4d4d" stroke-width="1"/>
<line x1="537.8" y1="322.90" x2="532.3" y2="322.90" stroke="#4d4d4d" stroke-width="1"/>
<line x1="394.6" y1="343.90" x2="400.1" y2="343.90" stroke="#4d4d4d" stroke-width="1"/>
<line x1="537.8" y1="343.90" x2="532.3" y2="343.90" stroke="#4d4d4d" stroke-width="1"/>
<line x1="394.6" y1="364.90" x2="400.1" y2="364.90" stroke="#4d4d4d" stroke-width="1"/>
<line x1="537.8" y1="364.90" x2="532.3" y2="364.90" stroke="#4d4d4d" stroke-width="1"/>
<rect x="394.6" y="302.0" width="143.2" height="83.8" fill="none" stroke="#4d4d4d" stroke-width="1"/>
<text transform="translate(404.60 317.90) scale(1 1.06)" font-size="14.3" fill="#58d80c" stroke="#58d80c" stroke-width="0.15">ISU</text>
<text transform="translate(532.30 317.90) scale(1 1.06)" font-size="14.3" fill="#ff0000" stroke="#ff0000" stroke-width="0.15" text-anchor="end">C11</text>
</g>
<text transform="translate(58.40 38.80) scale(1 1.0)" font-size="14.75" fill="#1f1f1f" stroke="#1f1f1f" stroke-width="0.12" text-anchor="end">2</text>
<text transform="translate(58.40 59.80) scale(1 1.0)" font-size="14.75" fill="#1f1f1f" stroke="#1f1f1f" stroke-width="0.12" text-anchor="end">0</text>
<text transform="translate(58.40 80.80) scale(1 1.0)" font-size="14.75" fill="#1f1f1f" stroke="#1f1f1f" stroke-width="0.12" text-anchor="end">2</text>
<text transform="translate(42.70 80.80) scale(1.215 1.0)" font-size="14.75" fill="#1f1f1f" stroke="#1f1f1f" stroke-width="0.12" text-anchor="middle">−</text>
<text transform="translate(58.40 135.30) scale(1 1.0)" font-size="14.75" fill="#1f1f1f" stroke="#1f1f1f" stroke-width="0.12" text-anchor="end">0.3</text>
<text transform="translate(58.40 156.30) scale(1 1.0)" font-size="14.75" fill="#1f1f1f" stroke="#1f1f1f" stroke-width="0.12" text-anchor="end">0</text>
<text transform="translate(58.40 177.30) scale(1 1.0)" font-size="14.75" fill="#1f1f1f" stroke="#1f1f1f" stroke-width="0.12" text-anchor="end">0.3</text>
<text transform="translate(30.40 177.30) scale(1.215 1.0)" font-size="14.75" fill="#1f1f1f" stroke="#1f1f1f" stroke-width="0.12" text-anchor="middle">−</text>
<text transform="translate(58.40 231.80) scale(1 1.0)" font-size="14.75" fill="#1f1f1f" stroke="#1f1f1f" stroke-width="0.12" text-anchor="end">0.3</text>
<text transform="translate(58.40 252.80) scale(1 1.0)" font-size="14.75" fill="#1f1f1f" stroke="#1f1f1f" stroke-width="0.12" text-anchor="end">0</text>
<text transform="translate(58.40 273.80) scale(1 1.0)" font-size="14.75" fill="#1f1f1f" stroke="#1f1f1f" stroke-width="0.12" text-anchor="end">0.3</text>
<text transform="translate(30.40 273.80) scale(1.215 1.0)" font-size="14.75" fill="#1f1f1f" stroke="#1f1f1f" stroke-width="0.12" text-anchor="middle">−</text>
<text transform="translate(58.40 328.30) scale(1 1.0)" font-size="14.75" fill="#1f1f1f" stroke="#1f1f1f" stroke-width="0.12" text-anchor="end">0.3</text>
<text transform="translate(58.40 349.30) scale(1 1.0)" font-size="14.75" fill="#1f1f1f" stroke="#1f1f1f" stroke-width="0.12" text-anchor="end">0</text>
<text transform="translate(58.40 370.30) scale(1 1.0)" font-size="14.75" fill="#1f1f1f" stroke="#1f1f1f" stroke-width="0.12" text-anchor="end">0.3</text>
<text transform="translate(30.40 370.30) scale(1.215 1.0)" font-size="14.75" fill="#1f1f1f" stroke="#1f1f1f" stroke-width="0.12" text-anchor="middle">−</text>
<text transform="translate(70.80 404.80) scale(1 1.0)" font-size="14.75" fill="#1f1f1f" stroke="#1f1f1f" stroke-width="0.12" text-anchor="middle">90</text>
<text transform="translate(56.00 404.80) scale(1.215 1.0)" font-size="14.75" fill="#1f1f1f" stroke="#1f1f1f" stroke-width="0.12" text-anchor="middle">−</text>
<text transform="translate(106.60 404.80) scale(1 1.0)" font-size="14.75" fill="#1f1f1f" stroke="#1f1f1f" stroke-width="0.12" text-anchor="middle">45</text>
<text transform="translate(91.80 404.80) scale(1.215 1.0)" font-size="14.75" fill="#1f1f1f" stroke="#1f1f1f" stroke-width="0.12" text-anchor="middle">−</text>
<text transform="translate(136.50 404.80) scale(1 1.0)" font-size="14.75" fill="#1f1f1f" stroke="#1f1f1f" stroke-width="0.12" text-anchor="middle">0</text>
<text transform="translate(173.10 404.80) scale(1 1.0)" font-size="14.75" fill="#1f1f1f" stroke="#1f1f1f" stroke-width="0.12" text-anchor="middle">45</text>
<text transform="translate(206.60 404.80) scale(1 1.0)" font-size="14.75" fill="#1f1f1f" stroke="#1f1f1f" stroke-width="0.12" text-anchor="middle">90</text>
<text transform="translate(136.10 418.70) scale(1 1.0)" font-size="14.75" fill="#1f1f1f" stroke="#1f1f1f" stroke-width="0.12" text-anchor="middle">Beta angle [°]</text>
<text transform="translate(235.80 404.80) scale(1 1.0)" font-size="14.75" fill="#1f1f1f" stroke="#1f1f1f" stroke-width="0.12" text-anchor="middle">90</text>
<text transform="translate(221.00 404.80) scale(1.215 1.0)" font-size="14.75" fill="#1f1f1f" stroke="#1f1f1f" stroke-width="0.12" text-anchor="middle">−</text>
<text transform="translate(271.60 404.80) scale(1 1.0)" font-size="14.75" fill="#1f1f1f" stroke="#1f1f1f" stroke-width="0.12" text-anchor="middle">45</text>
<text transform="translate(256.80 404.80) scale(1.215 1.0)" font-size="14.75" fill="#1f1f1f" stroke="#1f1f1f" stroke-width="0.12" text-anchor="middle">−</text>
<text transform="translate(301.50 404.80) scale(1 1.0)" font-size="14.75" fill="#1f1f1f" stroke="#1f1f1f" stroke-width="0.12" text-anchor="middle">0</text>
<text transform="translate(338.10 404.80) scale(1 1.0)" font-size="14.75" fill="#1f1f1f" stroke="#1f1f1f" stroke-width="0.12" text-anchor="middle">45</text>
<text transform="translate(371.60 404.80) scale(1 1.0)" font-size="14.75" fill="#1f1f1f" stroke="#1f1f1f" stroke-width="0.12" text-anchor="middle">90</text>
<text transform="translate(301.10 418.70) scale(1 1.0)" font-size="14.75" fill="#1f1f1f" stroke="#1f1f1f" stroke-width="0.12" text-anchor="middle">Beta angle [°]</text>
<text transform="translate(400.90 404.80) scale(1 1.0)" font-size="14.75" fill="#1f1f1f" stroke="#1f1f1f" stroke-width="0.12" text-anchor="middle">90</text>
<text transform="translate(386.10 404.80) scale(1.215 1.0)" font-size="14.75" fill="#1f1f1f" stroke="#1f1f1f" stroke-width="0.12" text-anchor="middle">−</text>
<text transform="translate(436.70 404.80) scale(1 1.0)" font-size="14.75" fill="#1f1f1f" stroke="#1f1f1f" stroke-width="0.12" text-anchor="middle">45</text>
<text transform="translate(421.90 404.80) scale(1.215 1.0)" font-size="14.75" fill="#1f1f1f" stroke="#1f1f1f" stroke-width="0.12" text-anchor="middle">−</text>
<text transform="translate(466.60 404.80) scale(1 1.0)" font-size="14.75" fill="#1f1f1f" stroke="#1f1f1f" stroke-width="0.12" text-anchor="middle">0</text>
<text transform="translate(503.20 404.80) scale(1 1.0)" font-size="14.75" fill="#1f1f1f" stroke="#1f1f1f" stroke-width="0.12" text-anchor="middle">45</text>
<text transform="translate(536.70 404.80) scale(1 1.0)" font-size="14.75" fill="#1f1f1f" stroke="#1f1f1f" stroke-width="0.12" text-anchor="middle">90</text>
<text transform="translate(466.20 418.70) scale(1 1.0)" font-size="14.75" fill="#1f1f1f" stroke="#1f1f1f" stroke-width="0.12" text-anchor="middle">Beta angle [°]</text>
<text transform="translate(22.7 201.3) rotate(-90) scale(1 1.0)" font-size="14.75" fill="#1f1f1f" stroke="#1f1f1f" stroke-width="0.12" text-anchor="middle">SLR Residuals [m]</text>
</svg></body></html>
